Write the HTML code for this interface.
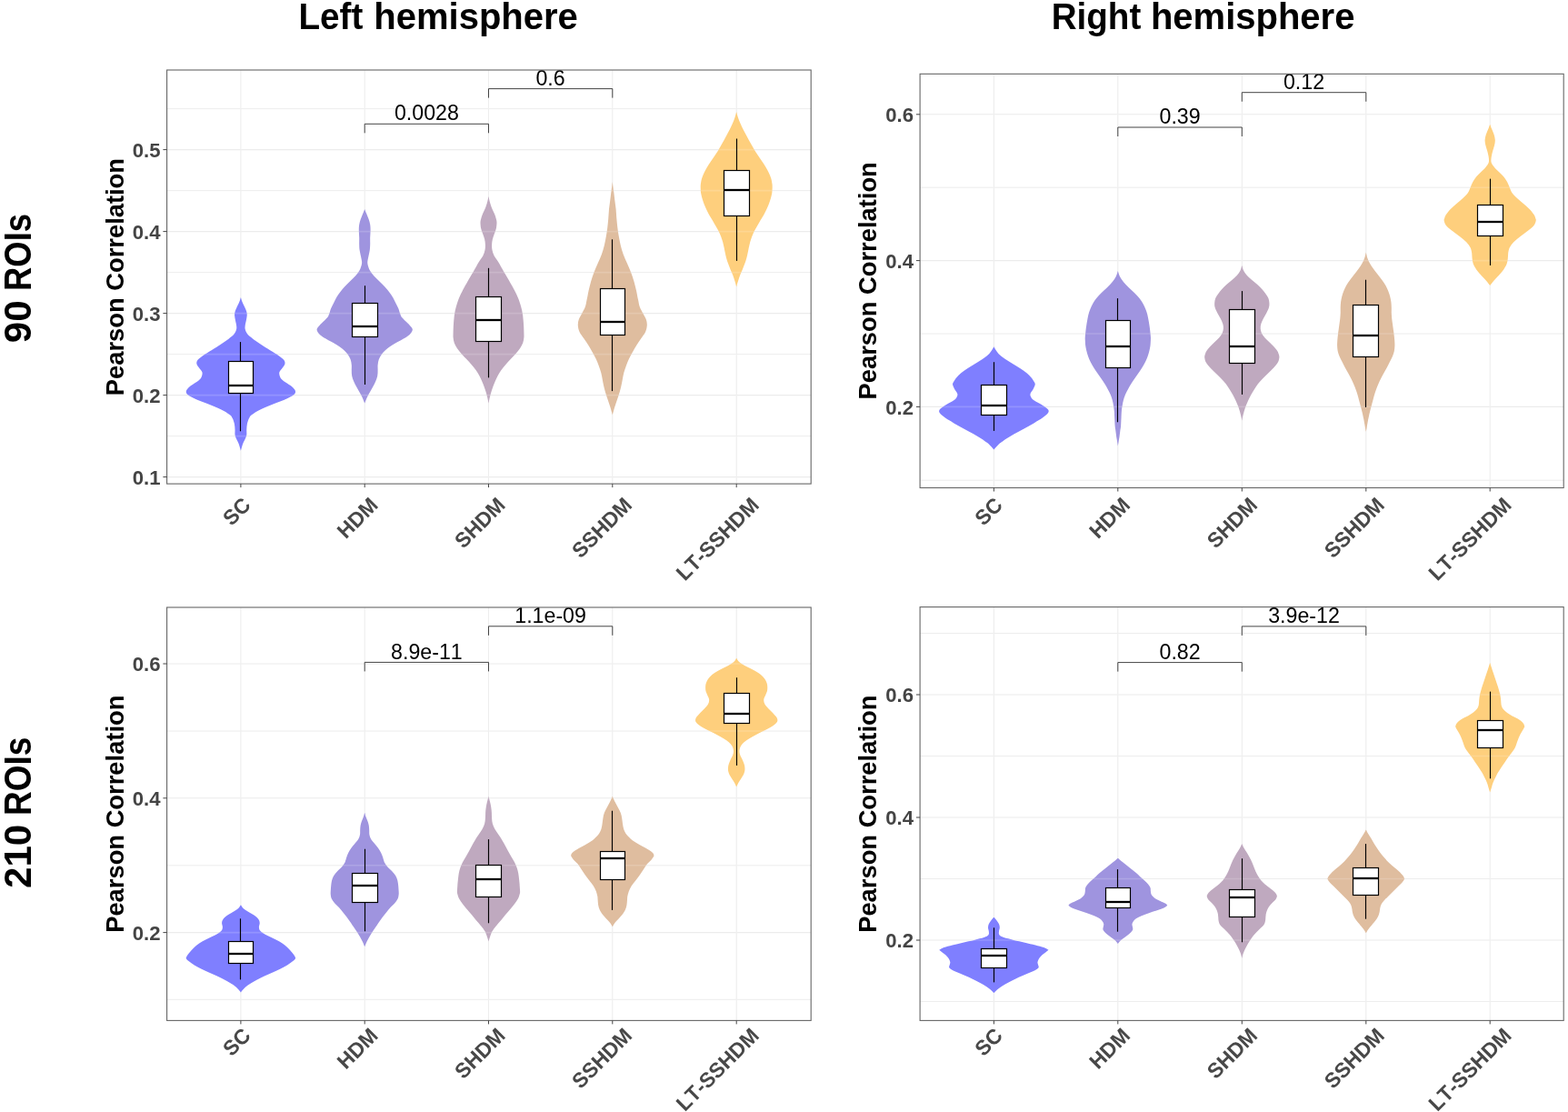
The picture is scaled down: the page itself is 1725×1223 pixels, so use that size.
<!DOCTYPE html>
<html lang="en">
<head>
<meta charset="utf-8">
<title>Pearson correlation violin plots</title>
<style>
html,body{margin:0;padding:0;background:#fff;}
body{width:1725px;height:1223px;overflow:hidden;}
svg{display:block;}
text{font-family:"Liberation Sans",sans-serif;}
.pv,.yt,.xt,.yl{font-kerning:none;}
.gmaj{stroke:#e9e9e9;stroke-width:1.1;}
.gv{stroke:#ededed;stroke-width:1.1;}
.gov{stroke:#fff;stroke-opacity:0.16;stroke-width:1.6;}
.gmin{stroke:#eaeaea;stroke-width:1;}
.fr{fill:none;stroke:#666;stroke-width:1.1;}
.tk{stroke:#444;stroke-width:1;}
.wh{stroke:#000;stroke-width:1.15;}
.bx{fill:#fff;stroke:#000;stroke-width:1.2;}
.md{stroke:#000;stroke-width:2.3;}
.br{fill:none;stroke:#3a3a3a;stroke-width:0.95;}
.pv{font-size:23.2px;text-anchor:middle;fill:#000;}
.yt{font-size:22.8px;font-weight:bold;text-anchor:end;fill:#444;}
.xt{font-size:23.2px;font-weight:bold;text-anchor:end;fill:#484848;}
.yl{font-size:28.4px;font-weight:bold;text-anchor:middle;fill:#000;}
.ti{font-size:40px;font-weight:bold;fill:#000;}
.tv{font-size:42px;font-weight:bold;fill:#000;}
</style>
</head>
<body>
<svg width="1725" height="1223" viewBox="0 0 1725 1223">
<rect width="1725" height="1223" fill="#fff"/>
<g id="p1">
<line x1="183.6" y1="119.6" x2="892.2" y2="119.6" class="gmin"/>
<line x1="183.6" y1="209.6" x2="892.2" y2="209.6" class="gmin"/>
<line x1="183.6" y1="299.6" x2="892.2" y2="299.6" class="gmin"/>
<line x1="183.6" y1="389.6" x2="892.2" y2="389.6" class="gmin"/>
<line x1="183.6" y1="479.6" x2="892.2" y2="479.6" class="gmin"/>
<line x1="183.6" y1="164.6" x2="892.2" y2="164.6" class="gmaj"/>
<line x1="183.6" y1="254.6" x2="892.2" y2="254.6" class="gmaj"/>
<line x1="183.6" y1="344.6" x2="892.2" y2="344.6" class="gmaj"/>
<line x1="183.6" y1="434.6" x2="892.2" y2="434.6" class="gmaj"/>
<line x1="183.6" y1="524.6" x2="892.2" y2="524.6" class="gmaj"/>
<line x1="264.9" y1="77" x2="264.9" y2="532.1" class="gv"/>
<line x1="401.2" y1="77" x2="401.2" y2="532.1" class="gv"/>
<line x1="537.5" y1="77" x2="537.5" y2="532.1" class="gv"/>
<line x1="673.8" y1="77" x2="673.8" y2="532.1" class="gv"/>
<line x1="810.2" y1="77" x2="810.2" y2="532.1" class="gv"/>
<path d="M264.9,327C265.2,327.9 265.8,330.2 266.5,332.1C267.2,333.9 268.5,336.2 269.3,338.1C270.1,339.9 270.9,341.6 271.3,343.1C271.7,344.6 271.8,345.6 271.7,347.1C271.6,348.6 271.2,350.3 270.9,352.1C270.6,353.9 269.9,356.4 269.7,358.1C269.5,359.8 269.4,360.8 269.7,362.1C270,363.4 270.4,364.8 271.3,366.1C272.2,367.5 273,368.5 274.9,370.1C276.9,371.8 280.1,374.1 282.9,376.1C285.8,378.1 288.8,380.1 291.9,382.1C295.1,384.2 299.3,386.5 302,388.2C304.6,389.8 306.2,390.8 308,392.2C309.7,393.5 311.7,394.8 312.6,396.2C313.5,397.5 313.7,398.8 313.4,400.2C313.1,401.5 312,402.7 311,404.2C310,405.7 307.9,407.5 307.4,409.2C306.9,410.9 307.4,412.7 308,414.2C308.6,415.7 309,416.5 311,418.2C313,419.9 317.8,422.6 320,424.2C322.2,425.9 323.2,427.1 324,428.2C324.8,429.4 325.2,430.2 325,431.2C324.8,432.2 324.5,433.1 323,434.2C321.5,435.4 319.7,436.6 316,438.2C312.3,439.9 305.8,442.3 301,444.3C296.1,446.3 290.9,448.3 286.9,450.3C282.9,452.3 279.1,454.6 276.9,456.3C274.8,458 274.8,458.6 273.9,460.3C273.1,462 272.3,464.3 271.9,466.3C271.5,468.3 271.4,470.3 271.3,472.3C271.2,474.3 271.5,476.7 271.3,478.3C271.1,480 270.6,480.6 269.9,482.3C269.2,484.1 267.7,486.5 266.9,488.7C266.1,491 265.2,494.6 264.9,495.8C264.6,494.6 263.7,491 262.9,488.7C262.1,486.5 260.6,484.1 259.9,482.3C259.2,480.6 258.7,480 258.5,478.3C258.3,476.7 258.6,474.3 258.5,472.3C258.4,470.3 258.3,468.3 257.9,466.3C257.5,464.3 256.7,462 255.9,460.3C255,458.6 255,458 252.9,456.3C250.7,454.6 246.9,452.3 242.9,450.3C238.9,448.3 233.7,446.3 228.8,444.3C224,442.3 217.5,439.9 213.8,438.2C210.1,436.6 208.3,435.4 206.8,434.2C205.3,433.1 205,432.2 204.8,431.2C204.6,430.2 205,429.4 205.8,428.2C206.6,427.1 207.6,425.9 209.8,424.2C212,422.6 216.8,419.9 218.8,418.2C220.8,416.5 221.2,415.7 221.8,414.2C222.4,412.7 222.9,410.9 222.4,409.2C221.9,407.5 219.8,405.7 218.8,404.2C217.8,402.7 216.7,401.5 216.4,400.2C216.1,398.8 216.3,397.5 217.2,396.2C218.1,394.8 220.1,393.5 221.8,392.2C223.6,390.8 225.2,389.8 227.8,388.2C230.5,386.5 234.7,384.2 237.9,382.1C241,380.1 244,378.1 246.9,376.1C249.7,374.1 252.9,371.8 254.9,370.1C256.8,368.5 257.6,367.5 258.5,366.1C259.4,364.8 259.8,363.4 260.1,362.1C260.4,360.8 260.3,359.8 260.1,358.1C259.9,356.4 259.2,353.9 258.9,352.1C258.6,350.3 258.2,348.6 258.1,347.1C258,345.6 258.1,344.6 258.5,343.1C258.9,341.6 259.7,339.9 260.5,338.1C261.3,336.2 262.6,333.9 263.3,332.1C264,330.2 264.6,327.9 264.9,327Z" fill="#7f7fff"/>
<path d="M401.2,230C401.5,230.9 402.5,233.2 403.2,235.1C403.9,236.9 404.9,239.1 405.6,241.1C406.3,243.1 406.9,245.1 407.2,247.1C407.5,249.1 407.6,250.7 407.6,253.1C407.6,255.4 407.3,258.4 407.2,261.1C407.1,263.8 407.3,266.8 407.2,269.1C407.1,271.5 407.1,273.1 406.8,275.1C406.5,277.1 406,279.1 405.6,281.1C405.2,283.1 404.6,285.5 404.4,287.1C404.2,288.8 404.2,289.5 404.6,291.2C405,292.8 405.7,295.2 406.8,297.2C407.9,299.2 409.5,301.2 411.2,303.2C413,305.2 415.2,307.2 417.2,309.2C419.2,311.2 421.4,313.2 423.2,315.2C425.1,317.2 426.7,319.2 428.2,321.2C429.8,323.2 431.1,325.2 432.3,327.2C433.4,329.2 434.3,331.2 435.3,333.2C436.3,335.2 437.4,337.2 438.3,339.2C439.1,341.2 439.6,343.6 440.3,345.3C440.9,346.9 440.9,347.6 442.3,349.3C443.6,350.9 446.5,353.4 448.3,355.3C450.1,357.1 452,358.9 452.9,360.3C453.8,361.6 454,362.1 453.7,363.3C453.4,364.5 452.5,366 451.3,367.3C450.1,368.6 449,369.6 446.3,371.3C443.6,373 438.6,375.3 435.3,377.3C431.9,379.3 428.7,381.3 426.2,383.3C423.7,385.3 421.8,387.3 420.2,389.3C418.7,391.3 417.6,393.3 416.8,395.3C416.1,397.3 415.8,399.3 415.6,401.4C415.4,403.4 415.7,405.4 415.6,407.4C415.6,409.4 415.6,411.4 415.2,413.4C414.8,415.4 414.1,417.4 413.2,419.4C412.4,421.4 411.3,423.4 410.2,425.4C409.1,427.4 407.9,429.4 406.8,431.4C405.7,433.4 404.5,435.4 403.6,437.4C402.7,439.4 401.6,442.4 401.2,443.4C400.8,442.4 399.7,439.4 398.8,437.4C397.9,435.4 396.7,433.4 395.6,431.4C394.5,429.4 393.3,427.4 392.2,425.4C391.1,423.4 390,421.4 389.2,419.4C388.3,417.4 387.6,415.4 387.2,413.4C386.8,411.4 386.8,409.4 386.8,407.4C386.7,405.4 387,403.4 386.8,401.4C386.6,399.3 386.3,397.3 385.6,395.3C384.8,393.3 383.7,391.3 382.2,389.3C380.6,387.3 378.7,385.3 376.2,383.3C373.7,381.3 370.5,379.3 367.1,377.3C363.8,375.3 358.8,373 356.1,371.3C353.4,369.6 352.3,368.6 351.1,367.3C349.9,366 349,364.5 348.7,363.3C348.4,362.1 348.6,361.6 349.5,360.3C350.4,358.9 352.3,357.1 354.1,355.3C355.9,353.4 358.8,350.9 360.1,349.3C361.5,347.6 361.5,346.9 362.1,345.3C362.8,343.6 363.3,341.2 364.1,339.2C365,337.2 366.1,335.2 367.1,333.2C368.1,331.2 369,329.2 370.1,327.2C371.3,325.2 372.6,323.2 374.2,321.2C375.7,319.2 377.3,317.2 379.2,315.2C381,313.2 383.2,311.2 385.2,309.2C387.2,307.2 389.4,305.2 391.2,303.2C392.9,301.2 394.5,299.2 395.6,297.2C396.7,295.2 397.4,292.8 397.8,291.2C398.2,289.5 398.2,288.8 398,287.1C397.8,285.5 397.2,283.1 396.8,281.1C396.4,279.1 395.9,277.1 395.6,275.1C395.3,273.1 395.3,271.5 395.2,269.1C395.1,266.8 395.3,263.8 395.2,261.1C395.1,258.4 394.8,255.4 394.8,253.1C394.8,250.7 394.9,249.1 395.2,247.1C395.5,245.1 396.1,243.1 396.8,241.1C397.5,239.1 398.5,236.9 399.2,235.1C399.9,233.2 400.9,230.9 401.2,230Z" fill="#9f94df"/>
<path d="M537.5,216C537.8,217.2 538.5,220.9 539.1,223C539.7,225.2 540.3,227 541.1,229C541.9,231 543.1,233.1 543.9,235.1C544.7,237.1 545.5,239.4 545.9,241.1C546.3,242.7 546.5,243.4 546.5,245.1C546.5,246.7 546.3,249.1 545.9,251.1C545.5,253.1 544.6,255.1 543.9,257.1C543.2,259.1 542.4,261.1 541.9,263.1C541.4,265.1 541.2,267.1 541.1,269.1C541,271.1 541.1,273.1 541.5,275.1C541.9,277.1 542.5,279.1 543.5,281.1C544.5,283.1 546.2,285.1 547.5,287.1C548.8,289.2 550,291.2 551.1,293.2C552.3,295.2 553.4,297.2 554.5,299.2C555.7,301.2 557,303.2 558.1,305.2C559.3,307.2 560.4,309.2 561.5,311.2C562.7,313.2 563.9,315.2 564.9,317.2C566,319.2 567,321.2 568,323.2C568.9,325.2 569.8,327.2 570.6,329.2C571.3,331.2 572,333.2 572.6,335.2C573.2,337.2 573.7,339.2 574.2,341.2C574.6,343.2 574.9,345.3 575.2,347.3C575.4,349.3 575.6,351.3 575.8,353.3C575.9,355.3 576.1,357.3 576.2,359.3C576.3,361.3 576.3,363.3 576.4,365.3C576.4,367.3 576.6,369.3 576.4,371.3C576.2,373.3 575.9,375.3 575.2,377.3C574.4,379.3 573.3,381.3 572,383.3C570.6,385.3 568.9,387.3 567.2,389.3C565.4,391.3 563.4,393.3 561.5,395.3C559.7,397.3 557.7,399.3 555.9,401.4C554.2,403.4 552.5,405.4 551.1,407.4C549.7,409.4 548.6,411.4 547.5,413.4C546.4,415.4 545.6,417.4 544.7,419.4C543.8,421.4 543,423.4 542.3,425.4C541.6,427.4 540.9,429.4 540.3,431.4C539.7,433.4 539.2,435.4 538.7,437.4C538.2,439.4 537.7,442.4 537.5,443.4C537.3,442.4 536.8,439.4 536.3,437.4C535.8,435.4 535.3,433.4 534.7,431.4C534.1,429.4 533.4,427.4 532.7,425.4C532,423.4 531.2,421.4 530.3,419.4C529.4,417.4 528.6,415.4 527.5,413.4C526.4,411.4 525.3,409.4 523.9,407.4C522.5,405.4 520.8,403.4 519.1,401.4C517.3,399.3 515.3,397.3 513.5,395.3C511.6,393.3 509.6,391.3 507.8,389.3C506.1,387.3 504.4,385.3 503,383.3C501.7,381.3 500.6,379.3 499.8,377.3C499.1,375.3 498.8,373.3 498.6,371.3C498.4,369.3 498.6,367.3 498.6,365.3C498.7,363.3 498.7,361.3 498.8,359.3C498.9,357.3 499.1,355.3 499.2,353.3C499.4,351.3 499.6,349.3 499.8,347.3C500.1,345.3 500.4,343.2 500.8,341.2C501.3,339.2 501.8,337.2 502.4,335.2C503,333.2 503.7,331.2 504.4,329.2C505.2,327.2 506.1,325.2 507,323.2C508,321.2 509,319.2 510.1,317.2C511.1,315.2 512.3,313.2 513.5,311.2C514.6,309.2 515.7,307.2 516.9,305.2C518,303.2 519.3,301.2 520.5,299.2C521.6,297.2 522.7,295.2 523.9,293.2C525,291.2 526.2,289.2 527.5,287.1C528.8,285.1 530.5,283.1 531.5,281.1C532.5,279.1 533.1,277.1 533.5,275.1C533.9,273.1 534,271.1 533.9,269.1C533.8,267.1 533.6,265.1 533.1,263.1C532.6,261.1 531.8,259.1 531.1,257.1C530.4,255.1 529.5,253.1 529.1,251.1C528.7,249.1 528.5,246.7 528.5,245.1C528.5,243.4 528.7,242.7 529.1,241.1C529.5,239.4 530.3,237.1 531.1,235.1C531.9,233.1 533.1,231 533.9,229C534.7,227 535.3,225.2 535.9,223C536.5,220.9 537.2,217.2 537.5,216Z" fill="#bfa9bf"/>
<path d="M673.8,200C674,201.7 674.6,206.7 675.1,210C675.5,213.4 675.9,216.7 676.3,220C676.7,223.4 677.2,226.7 677.6,230C677.9,233.4 678,236.7 678.3,240C678.6,243.4 678.9,246.7 679.3,250C679.7,253.4 680.2,256.7 680.8,260C681.4,263.4 682,266.7 682.8,270.1C683.6,273.4 684.6,276.7 685.8,280.1C687,283.4 688.6,286.7 690.1,290.1C691.5,293.4 693.1,296.7 694.3,300.1C695.6,303.4 696.6,306.7 697.6,310.1C698.5,313.4 699.3,316.7 700.1,320.1C700.8,323.4 701.4,327.2 702.1,330.1C702.7,333 702.9,335.1 703.8,337.6C704.7,340.1 706.4,342.8 707.6,345.1C708.7,347.4 710.1,349.3 710.8,351.3C711.5,353.4 711.9,355.3 711.8,357.6C711.7,359.9 711.2,362.6 710.1,365.1C708.9,367.6 706.7,370.1 705.1,372.6C703.4,375.1 701.6,377.6 700.1,380.1C698.5,382.6 697.2,385.1 695.8,387.6C694.4,390.1 693,392.6 691.8,395.1C690.6,397.6 689.7,400.1 688.8,402.6C687.9,405.1 687,407.6 686.3,410.1C685.6,412.6 685.3,415.1 684.8,417.6C684.3,420.1 683.9,422.6 683.3,425.1C682.7,427.6 682.1,430.1 681.3,432.6C680.6,435.1 679.6,437.6 678.8,440.1C678,442.6 677.1,444.9 676.3,447.6C675.5,450.4 674.2,454.9 673.8,456.4C673.4,454.9 672.1,450.4 671.3,447.6C670.5,444.9 669.6,442.6 668.8,440.1C668,437.6 667,435.1 666.3,432.6C665.5,430.1 664.9,427.6 664.3,425.1C663.7,422.6 663.3,420.1 662.8,417.6C662.3,415.1 662,412.6 661.3,410.1C660.6,407.6 659.7,405.1 658.8,402.6C657.9,400.1 657,397.6 655.8,395.1C654.6,392.6 653.2,390.1 651.8,387.6C650.4,385.1 649.1,382.6 647.5,380.1C646,377.6 644.2,375.1 642.5,372.6C640.9,370.1 638.7,367.6 637.5,365.1C636.4,362.6 635.9,359.9 635.8,357.6C635.7,355.3 636.1,353.4 636.8,351.3C637.5,349.3 638.9,347.4 640,345.1C641.2,342.8 642.9,340.1 643.8,337.6C644.7,335.1 644.9,333 645.5,330.1C646.2,327.2 646.8,323.4 647.5,320.1C648.3,316.7 649.1,313.4 650,310.1C651,306.7 652,303.4 653.3,300.1C654.5,296.7 656.1,293.4 657.5,290.1C659,286.7 660.6,283.4 661.8,280.1C663,276.7 664,273.4 664.8,270.1C665.6,266.7 666.2,263.4 666.8,260C667.4,256.7 667.9,253.4 668.3,250C668.7,246.7 669,243.4 669.3,240C669.6,236.7 669.7,233.4 670,230C670.4,226.7 670.9,223.4 671.3,220C671.7,216.7 672.1,213.4 672.5,210C673,206.7 673.6,201.7 673.8,200Z" fill="#dfbd9f"/>
<path d="M810.2,123C810.5,124.2 811.5,127.9 812.2,130.1C812.9,132.2 813.7,134.1 814.6,136.1C815.5,138.1 816.4,140.1 817.4,142.1C818.4,144.1 819.6,146.1 820.6,148.1C821.7,150.1 822.7,152.1 823.8,154.1C824.9,156.1 826.1,158.1 827.2,160.1C828.4,162.1 829.4,164.1 830.6,166.1C831.9,168.1 833.3,170.1 834.6,172.1C836,174.1 837.3,176.1 838.7,178.1C840,180.1 841.5,182.1 842.7,184.2C843.9,186.2 844.9,188.2 845.9,190.2C846.8,192.2 847.7,194.2 848.3,196.2C848.9,198.2 849.2,200.5 849.5,202.2C849.7,203.9 849.7,204.5 849.7,206.2C849.6,207.9 849.6,210.2 849.3,212.2C849,214.2 848.4,216.2 847.9,218.2C847.3,220.2 846.6,222.2 845.9,224.2C845.1,226.2 844.2,228.2 843.3,230.2C842.3,232.2 841.4,234.2 840.3,236.2C839.2,238.2 837.8,240.3 836.6,242.3C835.5,244.3 834.4,246.3 833.2,248.3C832.1,250.3 830.8,252.3 829.8,254.3C828.8,256.3 828,258.3 827.2,260.3C826.5,262.3 825.8,264.3 825.2,266.3C824.7,268.3 824.3,270.3 823.8,272.3C823.4,274.3 823.1,276.3 822.6,278.3C822.2,280.3 821.8,282.3 821.2,284.3C820.7,286.3 820,288.3 819.2,290.3C818.5,292.3 817.6,294.3 816.8,296.4C816,298.4 815,300.4 814.2,302.4C813.4,304.4 812.9,306.2 812.2,308.4C811.5,310.5 810.5,314.2 810.2,315.4C809.9,314.2 808.9,310.5 808.2,308.4C807.5,306.2 807,304.4 806.2,302.4C805.4,300.4 804.4,298.4 803.6,296.4C802.8,294.3 801.9,292.3 801.2,290.3C800.4,288.3 799.7,286.3 799.2,284.3C798.6,282.3 798.2,280.3 797.8,278.3C797.3,276.3 797,274.3 796.6,272.3C796.1,270.3 795.7,268.3 795.2,266.3C794.6,264.3 793.9,262.3 793.2,260.3C792.4,258.3 791.6,256.3 790.6,254.3C789.6,252.3 788.3,250.3 787.2,248.3C786,246.3 784.9,244.3 783.8,242.3C782.6,240.3 781.2,238.2 780.1,236.2C779,234.2 778.1,232.2 777.1,230.2C776.2,228.2 775.3,226.2 774.5,224.2C773.8,222.2 773.1,220.2 772.5,218.2C772,216.2 771.4,214.2 771.1,212.2C770.8,210.2 770.8,207.9 770.7,206.2C770.7,204.5 770.7,203.9 770.9,202.2C771.2,200.5 771.5,198.2 772.1,196.2C772.7,194.2 773.6,192.2 774.5,190.2C775.5,188.2 776.5,186.2 777.7,184.2C778.9,182.1 780.4,180.1 781.7,178.1C783.1,176.1 784.4,174.1 785.8,172.1C787.1,170.1 788.5,168.1 789.8,166.1C791,164.1 792,162.1 793.2,160.1C794.3,158.1 795.5,156.1 796.6,154.1C797.7,152.1 798.7,150.1 799.8,148.1C800.8,146.1 802,144.1 803,142.1C804,140.1 804.9,138.1 805.8,136.1C806.7,134.1 807.5,132.2 808.2,130.1C808.9,127.9 809.9,124.2 810.2,123Z" fill="#fecf7d"/>
<line x1="183.6" y1="164.6" x2="892.2" y2="164.6" class="gov"/>
<line x1="183.6" y1="254.6" x2="892.2" y2="254.6" class="gov"/>
<line x1="183.6" y1="344.6" x2="892.2" y2="344.6" class="gov"/>
<line x1="183.6" y1="434.6" x2="892.2" y2="434.6" class="gov"/>
<line x1="183.6" y1="524.6" x2="892.2" y2="524.6" class="gov"/>
<line x1="183.6" y1="119.6" x2="892.2" y2="119.6" class="gov"/>
<line x1="183.6" y1="209.6" x2="892.2" y2="209.6" class="gov"/>
<line x1="183.6" y1="299.6" x2="892.2" y2="299.6" class="gov"/>
<line x1="183.6" y1="389.6" x2="892.2" y2="389.6" class="gov"/>
<line x1="183.6" y1="479.6" x2="892.2" y2="479.6" class="gov"/>
<line x1="264.5" y1="376.1" x2="264.5" y2="474.3" class="wh"/>
<rect x="251.5" y="397.5" width="27" height="35" class="bx"/>
<line x1="251.5" y1="424" x2="278.5" y2="424" class="md"/>
<line x1="401.5" y1="314.2" x2="401.5" y2="423" class="wh"/>
<rect x="387.5" y="333.5" width="28" height="37" class="bx"/>
<line x1="387.5" y1="359" x2="415.5" y2="359" class="md"/>
<line x1="537.5" y1="294.8" x2="537.5" y2="415.4" class="wh"/>
<rect x="523.5" y="326.5" width="28" height="49" class="bx"/>
<line x1="523.5" y1="352" x2="551.5" y2="352" class="md"/>
<line x1="673.5" y1="263.3" x2="673.5" y2="430.1" class="wh"/>
<rect x="660.5" y="317.5" width="27" height="51" class="bx"/>
<line x1="660.5" y1="354" x2="687.5" y2="354" class="md"/>
<line x1="810.5" y1="152.5" x2="810.5" y2="286.9" class="wh"/>
<rect x="796.5" y="187.5" width="28" height="50" class="bx"/>
<line x1="796.5" y1="209" x2="824.5" y2="209" class="md"/>
<path d="M401.2,146.3V136.3H537.5V146.3" class="br"/>
<text x="469.4" y="132.4" class="pv">0.0028</text>
<path d="M537.5,107.6V97.6H673.8V107.6" class="br"/>
<text x="605.6" y="93.7" class="pv">0.6</text>
<rect x="183.6" y="77" width="708.6" height="455.1" class="fr"/>
<line x1="179.4" y1="164.6" x2="183.6" y2="164.6" class="tk"/>
<text transform="translate(176.6,173) scale(0.972,1)" class="yt">0.5</text>
<line x1="179.4" y1="254.6" x2="183.6" y2="254.6" class="tk"/>
<text transform="translate(176.6,263) scale(0.972,1)" class="yt">0.4</text>
<line x1="179.4" y1="344.6" x2="183.6" y2="344.6" class="tk"/>
<text transform="translate(176.6,353) scale(0.972,1)" class="yt">0.3</text>
<line x1="179.4" y1="434.6" x2="183.6" y2="434.6" class="tk"/>
<text transform="translate(176.6,443) scale(0.972,1)" class="yt">0.2</text>
<line x1="179.4" y1="524.6" x2="183.6" y2="524.6" class="tk"/>
<text transform="translate(176.6,533) scale(0.972,1)" class="yt">0.1</text>
<line x1="264.9" y1="532.1" x2="264.9" y2="536.1" class="tk"/>
<text transform="translate(277.1,557) rotate(-45) scale(0.978,1)" class="xt">SC</text>
<line x1="401.2" y1="532.1" x2="401.2" y2="536.1" class="tk"/>
<text transform="translate(417.1,557) rotate(-45) scale(0.978,1)" class="xt">HDM</text>
<line x1="537.5" y1="532.1" x2="537.5" y2="536.1" class="tk"/>
<text transform="translate(557.1,557) rotate(-45) scale(0.978,1)" class="xt">SHDM</text>
<line x1="673.8" y1="532.1" x2="673.8" y2="536.1" class="tk"/>
<text transform="translate(696.7,557) rotate(-45) scale(0.978,1)" class="xt">SSHDM</text>
<line x1="810.2" y1="532.1" x2="810.2" y2="536.1" class="tk"/>
<text transform="translate(836.3,557) rotate(-45) scale(0.978,1)" class="xt">LT-SSHDM</text>
<text transform="translate(136.1,304.6) rotate(-90) scale(0.963,1)" class="yl">Pearson Correlation</text>
</g>
<g id="p2">
<line x1="1012.1" y1="206.2" x2="1720.2" y2="206.2" class="gmin"/>
<line x1="1012.1" y1="367" x2="1720.2" y2="367" class="gmin"/>
<line x1="1012.1" y1="528.2" x2="1720.2" y2="528.2" class="gmin"/>
<line x1="1012.1" y1="125.8" x2="1720.2" y2="125.8" class="gmaj"/>
<line x1="1012.1" y1="286.6" x2="1720.2" y2="286.6" class="gmaj"/>
<line x1="1012.1" y1="447.4" x2="1720.2" y2="447.4" class="gmaj"/>
<line x1="1093.4" y1="81.3" x2="1093.4" y2="536.5" class="gv"/>
<line x1="1229.8" y1="81.3" x2="1229.8" y2="536.5" class="gv"/>
<line x1="1366.3" y1="81.3" x2="1366.3" y2="536.5" class="gv"/>
<line x1="1502.8" y1="81.3" x2="1502.8" y2="536.5" class="gv"/>
<line x1="1639.2" y1="81.3" x2="1639.2" y2="536.5" class="gv"/>
<path d="M1093.4,381.2C1093.9,382 1095.3,384.7 1096.4,386.2C1097.5,387.7 1098.1,388.7 1099.8,390.2C1101.5,391.7 1104,393.5 1106.4,395.2C1108.9,396.9 1111.8,398.5 1114.4,400.2C1117.1,401.9 1119.9,403.6 1122.5,405.2C1125,406.9 1127.5,408.6 1129.5,410.2C1131.5,411.9 1133.1,413.6 1134.5,415.2C1135.9,416.9 1137.2,418.9 1137.9,420.3C1138.6,421.6 1138.9,421.9 1138.7,423.3C1138.4,424.6 1137.3,426.6 1136.5,428.3C1135.6,429.9 1133.8,431.8 1133.5,433.3C1133.1,434.8 1133.8,436.1 1134.5,437.3C1135.1,438.5 1135.8,439.1 1137.5,440.3C1139.1,441.5 1142.3,443 1144.5,444.3C1146.7,445.6 1149,447.1 1150.5,448.3C1152,449.5 1153.1,450.3 1153.5,451.3C1153.9,452.3 1153.7,453.1 1152.9,454.3C1152.1,455.5 1150.2,457 1148.5,458.3C1146.8,459.7 1145.2,460.7 1142.5,462.3C1139.8,464 1136,466.3 1132.5,468.3C1129,470.3 1125.1,472.3 1121.5,474.3C1117.8,476.4 1113.8,478.4 1110.4,480.4C1107.1,482.4 1103.7,484.7 1101.4,486.4C1099.2,488 1098.3,489 1097,490.4C1095.7,491.7 1094,493.7 1093.4,494.4C1092.8,493.7 1091.1,491.7 1089.8,490.4C1088.5,489 1087.6,488 1085.4,486.4C1083.1,484.7 1079.7,482.4 1076.4,480.4C1073,478.4 1069,476.4 1065.3,474.3C1061.7,472.3 1057.8,470.3 1054.3,468.3C1050.8,466.3 1047,464 1044.3,462.3C1041.6,460.7 1040,459.7 1038.3,458.3C1036.6,457 1034.7,455.5 1033.9,454.3C1033.1,453.1 1032.9,452.3 1033.3,451.3C1033.7,450.3 1034.8,449.5 1036.3,448.3C1037.8,447.1 1040.1,445.6 1042.3,444.3C1044.5,443 1047.7,441.5 1049.3,440.3C1051,439.1 1051.7,438.5 1052.3,437.3C1053,436.1 1053.7,434.8 1053.3,433.3C1053,431.8 1051.2,429.9 1050.3,428.3C1049.5,426.6 1048.4,424.6 1048.1,423.3C1047.9,421.9 1048.2,421.6 1048.9,420.3C1049.6,418.9 1050.9,416.9 1052.3,415.2C1053.7,413.6 1055.3,411.9 1057.3,410.2C1059.3,408.6 1061.8,406.9 1064.3,405.2C1066.9,403.6 1069.7,401.9 1072.4,400.2C1075,398.5 1077.9,396.9 1080.4,395.2C1082.8,393.5 1085.3,391.7 1087,390.2C1088.7,388.7 1089.3,387.7 1090.4,386.2C1091.5,384.7 1092.9,382 1093.4,381.2Z" fill="#7f7fff"/>
<path d="M1229.8,298C1230.2,299 1230.9,302 1231.9,304C1232.9,306 1234.3,308.1 1235.9,310.1C1237.5,312.1 1239.5,314.1 1241.5,316.1C1243.5,318.1 1245.9,320.1 1247.9,322.1C1249.9,324.1 1251.9,326.1 1253.5,328.1C1255.1,330.1 1256.4,332.1 1257.5,334.1C1258.6,336.1 1259.5,338.1 1260.3,340.1C1261.1,342.1 1261.8,344.1 1262.3,346.1C1262.8,348.1 1263.1,350.1 1263.5,352.1C1263.9,354.1 1264.2,356.1 1264.5,358.1C1264.8,360.1 1265.1,362.1 1265.3,364.2C1265.5,366.2 1265.8,368.5 1265.9,370.2C1266,371.8 1266,372.5 1265.9,374.2C1265.8,375.8 1265.8,378.2 1265.5,380.2C1265.2,382.2 1264.8,384.2 1264.3,386.2C1263.8,388.2 1263.2,390.2 1262.5,392.2C1261.8,394.2 1260.9,396.2 1259.9,398.2C1258.9,400.2 1257.7,402.2 1256.5,404.2C1255.3,406.2 1253.9,408.2 1252.5,410.2C1251.1,412.2 1249.7,414.2 1248.3,416.2C1246.9,418.2 1245.5,420.3 1244.3,422.3C1243,424.3 1241.9,426.3 1240.9,428.3C1239.8,430.3 1238.7,432.3 1237.9,434.3C1237,436.3 1236.4,438.3 1235.9,440.3C1235.3,442.3 1235,444.3 1234.7,446.3C1234.3,448.3 1234.1,450 1233.9,452.3C1233.7,454.6 1233.6,457.7 1233.5,460.3C1233.3,463 1233.3,466 1233.1,468.3C1232.9,470.7 1232.5,472.3 1232.3,474.3C1232,476.4 1231.8,478.4 1231.5,480.4C1231.2,482.4 1230.7,484.7 1230.5,486.4C1230.2,488 1230,489.7 1229.8,490.4C1229.7,489.7 1229.5,488 1229.2,486.4C1229,484.7 1228.5,482.4 1228.2,480.4C1227.9,478.4 1227.7,476.4 1227.4,474.3C1227.2,472.3 1226.8,470.7 1226.6,468.3C1226.4,466 1226.4,463 1226.2,460.3C1226.1,457.7 1226,454.6 1225.8,452.3C1225.6,450 1225.4,448.3 1225,446.3C1224.7,444.3 1224.4,442.3 1223.8,440.3C1223.3,438.3 1222.7,436.3 1221.8,434.3C1221,432.3 1219.9,430.3 1218.8,428.3C1217.8,426.3 1216.7,424.3 1215.4,422.3C1214.2,420.3 1212.8,418.2 1211.4,416.2C1210,414.2 1208.6,412.2 1207.2,410.2C1205.8,408.2 1204.4,406.2 1203.2,404.2C1202,402.2 1200.8,400.2 1199.8,398.2C1198.8,396.2 1197.9,394.2 1197.2,392.2C1196.5,390.2 1195.9,388.2 1195.4,386.2C1194.9,384.2 1194.5,382.2 1194.2,380.2C1193.9,378.2 1193.9,375.8 1193.8,374.2C1193.7,372.5 1193.7,371.8 1193.8,370.2C1193.9,368.5 1194.2,366.2 1194.4,364.2C1194.6,362.1 1194.9,360.1 1195.2,358.1C1195.5,356.1 1195.8,354.1 1196.2,352.1C1196.6,350.1 1196.9,348.1 1197.4,346.1C1197.9,344.1 1198.6,342.1 1199.4,340.1C1200.2,338.1 1201.1,336.1 1202.2,334.1C1203.3,332.1 1204.6,330.1 1206.2,328.1C1207.8,326.1 1209.8,324.1 1211.8,322.1C1213.8,320.1 1216.2,318.1 1218.2,316.1C1220.2,314.1 1222.2,312.1 1223.8,310.1C1225.4,308.1 1226.8,306 1227.8,304C1228.8,302 1229.5,299 1229.8,298Z" fill="#9f94df"/>
<path d="M1366.3,292.1C1366.6,293.1 1367.4,296.2 1368.3,298.1C1369.2,299.9 1370.4,301.4 1371.9,303.1C1373.4,304.7 1375.4,306.4 1377.3,308.1C1379.2,309.8 1381.5,311.4 1383.3,313.1C1385.2,314.8 1386.8,316.4 1388.3,318.1C1389.8,319.8 1391.2,321.4 1392.3,323.1C1393.5,324.8 1394.7,326.5 1395.4,328.1C1396,329.8 1396.3,331.5 1396.4,333.1C1396.5,334.8 1396.5,336.3 1396,338.1C1395.5,340 1394.4,342.1 1393.3,344.2C1392.3,346.2 1390.9,348.2 1389.9,350.2C1388.9,352.2 1387.9,354.3 1387.3,356.2C1386.8,358 1386.6,359.5 1386.7,361.2C1386.8,362.9 1387.2,364.5 1387.9,366.2C1388.7,367.9 1389.9,369.5 1391.3,371.2C1392.7,372.9 1394.7,374.5 1396.4,376.2C1398,377.9 1399.9,379.5 1401.4,381.2C1402.9,382.9 1404.4,384.7 1405.4,386.2C1406.3,387.7 1406.6,389.1 1407,390.2C1407.3,391.4 1407.5,391.9 1407.4,393.2C1407.2,394.6 1407,396.4 1406,398.2C1405,400.1 1403.1,402.3 1401.4,404.3C1399.6,406.3 1397.4,408.3 1395.4,410.3C1393.3,412.3 1391.2,414.3 1389.3,416.3C1387.4,418.3 1385.5,420.3 1383.9,422.3C1382.4,424.3 1381.2,426.3 1379.9,428.3C1378.7,430.3 1377.4,432.3 1376.3,434.3C1375.2,436.3 1374.2,438.3 1373.3,440.3C1372.4,442.3 1371.5,444.3 1370.7,446.3C1369.9,448.3 1369.3,450.3 1368.7,452.3C1368.1,454.3 1367.5,456.6 1367.1,458.4C1366.7,460.1 1366.4,462 1366.3,462.8C1366.2,462 1365.9,460.1 1365.5,458.4C1365.1,456.6 1364.5,454.3 1363.9,452.3C1363.3,450.3 1362.7,448.3 1361.9,446.3C1361.1,444.3 1360.2,442.3 1359.3,440.3C1358.4,438.3 1357.4,436.3 1356.3,434.3C1355.2,432.3 1353.9,430.3 1352.7,428.3C1351.4,426.3 1350.2,424.3 1348.7,422.3C1347.1,420.3 1345.2,418.3 1343.3,416.3C1341.4,414.3 1339.3,412.3 1337.2,410.3C1335.2,408.3 1333,406.3 1331.2,404.3C1329.5,402.3 1327.6,400.1 1326.6,398.2C1325.6,396.4 1325.4,394.6 1325.2,393.2C1325.1,391.9 1325.3,391.4 1325.6,390.2C1326,389.1 1326.3,387.7 1327.2,386.2C1328.2,384.7 1329.7,382.9 1331.2,381.2C1332.7,379.5 1334.6,377.9 1336.2,376.2C1337.9,374.5 1339.9,372.9 1341.3,371.2C1342.7,369.5 1343.9,367.9 1344.7,366.2C1345.4,364.5 1345.8,362.9 1345.9,361.2C1346,359.5 1345.8,358 1345.3,356.2C1344.7,354.3 1343.7,352.2 1342.7,350.2C1341.7,348.2 1340.3,346.2 1339.3,344.2C1338.2,342.1 1337.1,340 1336.6,338.1C1336.1,336.3 1336.1,334.8 1336.2,333.1C1336.3,331.5 1336.6,329.8 1337.2,328.1C1337.9,326.5 1339.1,324.8 1340.3,323.1C1341.4,321.4 1342.8,319.8 1344.3,318.1C1345.8,316.4 1347.4,314.8 1349.3,313.1C1351.1,311.4 1353.4,309.8 1355.3,308.1C1357.2,306.4 1359.2,304.7 1360.7,303.1C1362.2,301.4 1363.4,299.9 1364.3,298.1C1365.2,296.2 1366,293.1 1366.3,292.1Z" fill="#bfa9bf"/>
<path d="M1502.8,277.6C1503,278.7 1503.6,282 1504.4,284C1505.1,286.1 1506,288.1 1507.2,290.1C1508.3,292.1 1509.7,294.1 1511.2,296.1C1512.6,298.1 1514.2,300.1 1515.8,302.1C1517.3,304.1 1518.9,306.1 1520.4,308.1C1521.8,310.1 1523.3,312.1 1524.4,314.1C1525.5,316.1 1526.4,318.1 1527.2,320.1C1528,322.1 1528.7,324.1 1529.2,326.1C1529.7,328.1 1530.1,330.1 1530.4,332.1C1530.7,334.1 1530.7,336.1 1530.8,338.1C1530.9,340.1 1530.7,342.1 1530.8,344.2C1530.9,346.2 1531,348.2 1531.2,350.2C1531.4,352.2 1531.7,354.2 1532,356.2C1532.3,358.2 1532.5,360.2 1532.8,362.2C1533.1,364.2 1533.4,366.2 1533.6,368.2C1533.8,370.2 1534.1,372.2 1534.2,374.2C1534.3,376.2 1534.5,378.2 1534.4,380.2C1534.3,382.2 1534.2,384.2 1533.8,386.2C1533.4,388.2 1532.6,390.2 1531.8,392.2C1531,394.2 1529.8,396.2 1528.8,398.2C1527.8,400.3 1526.9,402.3 1525.8,404.3C1524.7,406.3 1523.5,408.3 1522.4,410.3C1521.3,412.3 1520.2,414.3 1519.2,416.3C1518.2,418.3 1517.2,420.3 1516.4,422.3C1515.5,424.3 1514.7,426.3 1514,428.3C1513.2,430.3 1512.6,432.3 1512,434.3C1511.4,436.3 1510.9,438.3 1510.4,440.3C1509.8,442.3 1509.3,444.3 1508.8,446.3C1508.2,448.3 1507.7,450.3 1507.2,452.3C1506.7,454.3 1506.2,456.4 1505.8,458.4C1505.3,460.4 1504.9,462.4 1504.6,464.4C1504.2,466.4 1503.9,468.6 1503.6,470.4C1503.3,472.1 1502.9,474.1 1502.8,474.8C1502.6,474.1 1502.2,472.1 1501.9,470.4C1501.6,468.6 1501.3,466.4 1500.9,464.4C1500.6,462.4 1500.2,460.4 1499.7,458.4C1499.3,456.4 1498.8,454.3 1498.3,452.3C1497.8,450.3 1497.3,448.3 1496.7,446.3C1496.2,444.3 1495.7,442.3 1495.1,440.3C1494.6,438.3 1494.1,436.3 1493.5,434.3C1492.9,432.3 1492.3,430.3 1491.5,428.3C1490.8,426.3 1490,424.3 1489.1,422.3C1488.3,420.3 1487.3,418.3 1486.3,416.3C1485.3,414.3 1484.2,412.3 1483.1,410.3C1482,408.3 1480.8,406.3 1479.7,404.3C1478.6,402.3 1477.7,400.3 1476.7,398.2C1475.7,396.2 1474.5,394.2 1473.7,392.2C1472.9,390.2 1472.1,388.2 1471.7,386.2C1471.3,384.2 1471.2,382.2 1471.1,380.2C1471,378.2 1471.2,376.2 1471.3,374.2C1471.4,372.2 1471.7,370.2 1471.9,368.2C1472.1,366.2 1472.4,364.2 1472.7,362.2C1473,360.2 1473.2,358.2 1473.5,356.2C1473.8,354.2 1474.1,352.2 1474.3,350.2C1474.5,348.2 1474.6,346.2 1474.7,344.2C1474.8,342.1 1474.6,340.1 1474.7,338.1C1474.8,336.1 1474.8,334.1 1475.1,332.1C1475.4,330.1 1475.8,328.1 1476.3,326.1C1476.8,324.1 1477.5,322.1 1478.3,320.1C1479.1,318.1 1480,316.1 1481.1,314.1C1482.2,312.1 1483.7,310.1 1485.1,308.1C1486.6,306.1 1488.2,304.1 1489.7,302.1C1491.3,300.1 1492.9,298.1 1494.3,296.1C1495.8,294.1 1497.2,292.1 1498.3,290.1C1499.5,288.1 1500.4,286.1 1501.1,284C1501.9,282 1502.5,278.7 1502.8,277.6Z" fill="#dfbd9f"/>
<path d="M1639.2,136.7C1639.5,137.6 1640.5,140.2 1641.2,142.1C1641.9,144 1643,146.1 1643.6,148.1C1644.2,150.1 1644.7,152.1 1644.8,154.1C1644.9,156.1 1644.4,158.1 1644,160.1C1643.6,162.1 1642.7,164.1 1642.2,166.1C1641.7,168.1 1641.1,170.3 1640.8,172.1C1640.5,174 1640.3,175.8 1640.4,177.1C1640.5,178.5 1640.6,179 1641.2,180.1C1641.8,181.3 1642.9,182.6 1644.2,184.2C1645.5,185.7 1647.5,187.5 1649.2,189.2C1650.9,190.8 1652.7,192.3 1654.2,194.2C1655.7,196 1657.1,198.2 1658.2,200.2C1659.3,202.2 1659.9,204.2 1660.8,206.2C1661.7,208.2 1662.2,210.2 1663.6,212.2C1665,214.2 1667.2,216.2 1669.3,218.2C1671.4,220.2 1674,222.2 1676.3,224.2C1678.5,226.2 1681,228.2 1682.9,230.2C1684.8,232.2 1686.6,234.6 1687.7,236.2C1688.8,237.9 1689,239.2 1689.3,240.3C1689.6,241.3 1690,241.3 1689.7,242.7C1689.4,244 1688.9,246.3 1687.3,248.3C1685.7,250.2 1682.8,252.3 1680.3,254.3C1677.8,256.3 1674.8,258.3 1672.3,260.3C1669.8,262.3 1667.2,264.3 1665.2,266.3C1663.3,268.3 1661.8,270.3 1660.8,272.3C1659.8,274.3 1659.6,276.3 1659.2,278.3C1658.9,280.3 1659.1,282.3 1658.8,284.3C1658.6,286.3 1658.4,288.3 1657.6,290.3C1656.9,292.3 1655.6,294.3 1654.2,296.4C1652.8,298.4 1651,300.4 1649.2,302.4C1647.4,304.4 1645.3,306.4 1643.6,308.4C1641.9,310.3 1639.9,313.1 1639.2,314C1638.5,313.1 1636.5,310.3 1634.8,308.4C1633.1,306.4 1631,304.4 1629.2,302.4C1627.4,300.4 1625.6,298.4 1624.2,296.4C1622.8,294.3 1621.5,292.3 1620.8,290.3C1620,288.3 1619.8,286.3 1619.6,284.3C1619.3,282.3 1619.5,280.3 1619.2,278.3C1618.8,276.3 1618.6,274.3 1617.6,272.3C1616.6,270.3 1615.1,268.3 1613.2,266.3C1611.2,264.3 1608.6,262.3 1606.1,260.3C1603.6,258.3 1600.6,256.3 1598.1,254.3C1595.6,252.3 1592.7,250.2 1591.1,248.3C1589.5,246.3 1589,244 1588.7,242.7C1588.4,241.3 1588.8,241.3 1589.1,240.3C1589.4,239.2 1589.6,237.9 1590.7,236.2C1591.8,234.6 1593.6,232.2 1595.5,230.2C1597.4,228.2 1599.9,226.2 1602.1,224.2C1604.4,222.2 1607,220.2 1609.1,218.2C1611.2,216.2 1613.4,214.2 1614.8,212.2C1616.2,210.2 1616.7,208.2 1617.6,206.2C1618.5,204.2 1619.1,202.2 1620.2,200.2C1621.3,198.2 1622.7,196 1624.2,194.2C1625.7,192.3 1627.5,190.8 1629.2,189.2C1630.9,187.5 1632.9,185.7 1634.2,184.2C1635.5,182.6 1636.6,181.3 1637.2,180.1C1637.8,179 1637.9,178.5 1638,177.1C1638.1,175.8 1637.9,174 1637.6,172.1C1637.3,170.3 1636.7,168.1 1636.2,166.1C1635.7,164.1 1634.8,162.1 1634.4,160.1C1634,158.1 1633.5,156.1 1633.6,154.1C1633.7,152.1 1634.2,150.1 1634.8,148.1C1635.4,146.1 1636.5,144 1637.2,142.1C1637.9,140.2 1638.9,137.6 1639.2,136.7Z" fill="#fecf7d"/>
<line x1="1012.1" y1="125.8" x2="1720.2" y2="125.8" class="gov"/>
<line x1="1012.1" y1="286.6" x2="1720.2" y2="286.6" class="gov"/>
<line x1="1012.1" y1="447.4" x2="1720.2" y2="447.4" class="gov"/>
<line x1="1012.1" y1="206.2" x2="1720.2" y2="206.2" class="gov"/>
<line x1="1012.1" y1="367" x2="1720.2" y2="367" class="gov"/>
<line x1="1012.1" y1="528.2" x2="1720.2" y2="528.2" class="gov"/>
<line x1="1093.5" y1="398.2" x2="1093.5" y2="473.9" class="wh"/>
<rect x="1079.5" y="423.5" width="28" height="33" class="bx"/>
<line x1="1079.5" y1="446" x2="1107.5" y2="446" class="md"/>
<line x1="1229.5" y1="328.1" x2="1229.5" y2="464.3" class="wh"/>
<rect x="1216.5" y="352.5" width="27" height="52" class="bx"/>
<line x1="1216.5" y1="381" x2="1243.5" y2="381" class="md"/>
<line x1="1366.5" y1="320.1" x2="1366.5" y2="433.9" class="wh"/>
<rect x="1352.5" y="340.5" width="28" height="59" class="bx"/>
<line x1="1352.5" y1="381" x2="1380.5" y2="381" class="md"/>
<line x1="1502.5" y1="307.7" x2="1502.5" y2="447.9" class="wh"/>
<rect x="1488.5" y="335.5" width="28" height="57" class="bx"/>
<line x1="1488.5" y1="369" x2="1516.5" y2="369" class="md"/>
<line x1="1639.5" y1="196.6" x2="1639.5" y2="291.9" class="wh"/>
<rect x="1625.5" y="225.5" width="28" height="34" class="bx"/>
<line x1="1625.5" y1="244" x2="1653.5" y2="244" class="md"/>
<path d="M1229.8,150V140H1366.3V150" class="br"/>
<text x="1298.1" y="136.1" class="pv">0.39</text>
<path d="M1366.3,111.7V101.7H1502.8V111.7" class="br"/>
<text x="1434.5" y="97.8" class="pv">0.12</text>
<rect x="1012.1" y="81.3" width="708.1" height="455.2" class="fr"/>
<line x1="1007.9" y1="125.8" x2="1012.1" y2="125.8" class="tk"/>
<text transform="translate(1005.1,134.2) scale(0.972,1)" class="yt">0.6</text>
<line x1="1007.9" y1="286.6" x2="1012.1" y2="286.6" class="tk"/>
<text transform="translate(1005.1,295) scale(0.972,1)" class="yt">0.4</text>
<line x1="1007.9" y1="447.4" x2="1012.1" y2="447.4" class="tk"/>
<text transform="translate(1005.1,455.8) scale(0.972,1)" class="yt">0.2</text>
<line x1="1093.4" y1="536.5" x2="1093.4" y2="540.5" class="tk"/>
<text transform="translate(1104.4,557) rotate(-45) scale(0.978,1)" class="xt">SC</text>
<line x1="1229.8" y1="536.5" x2="1229.8" y2="540.5" class="tk"/>
<text transform="translate(1244.5,557) rotate(-45) scale(0.978,1)" class="xt">HDM</text>
<line x1="1366.3" y1="536.5" x2="1366.3" y2="540.5" class="tk"/>
<text transform="translate(1384.7,557) rotate(-45) scale(0.978,1)" class="xt">SHDM</text>
<line x1="1502.8" y1="536.5" x2="1502.8" y2="540.5" class="tk"/>
<text transform="translate(1524.4,557) rotate(-45) scale(0.978,1)" class="xt">SSHDM</text>
<line x1="1639.2" y1="536.5" x2="1639.2" y2="540.5" class="tk"/>
<text transform="translate(1664.1,557) rotate(-45) scale(0.978,1)" class="xt">LT-SSHDM</text>
<text transform="translate(964.4,308.8) rotate(-90) scale(0.963,1)" class="yl">Pearson Correlation</text>
</g>
<g id="p3">
<line x1="183.6" y1="804" x2="892.2" y2="804" class="gmin"/>
<line x1="183.6" y1="951.8" x2="892.2" y2="951.8" class="gmin"/>
<line x1="183.6" y1="1099.3" x2="892.2" y2="1099.3" class="gmin"/>
<line x1="183.6" y1="730" x2="892.2" y2="730" class="gmaj"/>
<line x1="183.6" y1="877.8" x2="892.2" y2="877.8" class="gmaj"/>
<line x1="183.6" y1="1025.6" x2="892.2" y2="1025.6" class="gmaj"/>
<line x1="264.9" y1="668" x2="264.9" y2="1122.4" class="gv"/>
<line x1="401.2" y1="668" x2="401.2" y2="1122.4" class="gv"/>
<line x1="537.5" y1="668" x2="537.5" y2="1122.4" class="gv"/>
<line x1="673.8" y1="668" x2="673.8" y2="1122.4" class="gv"/>
<line x1="810.2" y1="668" x2="810.2" y2="1122.4" class="gv"/>
<path d="M264.9,995.2C265.4,995.9 266.4,997.9 267.9,999.3C269.4,1000.6 271.8,1001.9 273.9,1003.3C276,1004.6 278.8,1005.9 280.5,1007.3C282.3,1008.6 283.7,1009.9 284.5,1011.3C285.4,1012.6 285.7,1013.9 285.7,1015.3C285.8,1016.6 284.9,1018 284.9,1019.3C285,1020.6 284.9,1022 285.9,1023.3C286.9,1024.6 288.8,1026 290.9,1027.3C293.1,1028.6 296.3,1030 299,1031.3C301.6,1032.6 304.6,1034 307,1035.3C309.3,1036.7 311.3,1038 313,1039.3C314.7,1040.7 316.1,1042 317.4,1043.3C318.7,1044.7 319.9,1046 321,1047.3C322.1,1048.7 323.3,1050.2 324,1051.3C324.7,1052.4 325.2,1053 325,1053.9C324.8,1054.9 324.1,1055.5 322.6,1056.8C321.1,1058 318.3,1059.9 316,1061.4C313.7,1062.8 311.3,1064 308.6,1065.4C305.9,1066.7 302.9,1068 300,1069.4C297,1070.7 293.8,1072 290.9,1073.4C288.1,1074.7 285.4,1076.1 282.9,1077.4C280.4,1078.7 278.1,1080 275.9,1081.4C273.7,1082.8 271.7,1084.1 269.9,1085.8C268.1,1087.5 265.7,1090.5 264.9,1091.4C264.1,1090.5 261.7,1087.5 259.9,1085.8C258.1,1084.1 256.1,1082.8 253.9,1081.4C251.7,1080 249.4,1078.7 246.9,1077.4C244.4,1076.1 241.7,1074.7 238.9,1073.4C236,1072 232.8,1070.7 229.8,1069.4C226.9,1068 223.9,1066.7 221.2,1065.4C218.5,1064 216.1,1062.8 213.8,1061.4C211.5,1059.9 208.7,1058 207.2,1056.8C205.7,1055.5 205,1054.9 204.8,1053.9C204.6,1053 205.1,1052.4 205.8,1051.3C206.5,1050.2 207.7,1048.7 208.8,1047.3C209.9,1046 211.1,1044.7 212.4,1043.3C213.7,1042 215.1,1040.7 216.8,1039.3C218.5,1038 220.5,1036.7 222.8,1035.3C225.2,1034 228.2,1032.6 230.8,1031.3C233.5,1030 236.7,1028.6 238.9,1027.3C241,1026 242.9,1024.6 243.9,1023.3C244.9,1022 244.8,1020.6 244.9,1019.3C244.9,1018 244,1016.6 244.1,1015.3C244.1,1013.9 244.4,1012.6 245.3,1011.3C246.1,1009.9 247.5,1008.6 249.3,1007.3C251,1005.9 253.8,1004.6 255.9,1003.3C258,1001.9 260.4,1000.6 261.9,999.3C263.4,997.9 264.4,995.9 264.9,995.2Z" fill="#7f7fff"/>
<path d="M401.2,893.7C401.4,894.4 401.9,896.5 402.4,898.1C402.9,899.6 403.8,901.4 404.4,903.1C405,904.7 405.5,906.4 405.8,908.1C406.1,909.8 406.1,911.4 406.2,913.1C406.3,914.8 406.1,916.4 406.4,918.1C406.7,919.8 407.2,921.4 408.2,923.1C409.2,924.8 410.9,926.5 412.2,928.1C413.6,929.8 415.1,931.5 416.2,933.1C417.4,934.8 418.4,936.5 419.2,938.1C420.1,939.8 420.6,941.5 421.2,943.1C421.8,944.8 422,946.5 422.8,948.2C423.7,949.8 424.8,951.5 426.2,953.2C427.6,954.8 429.8,956.5 431.3,958.2C432.8,959.8 434.3,961.5 435.3,963.2C436.3,964.9 436.8,966.5 437.3,968.2C437.7,969.9 437.9,971.5 438.1,973.2C438.3,974.9 438.4,976.5 438.5,978.2C438.6,979.9 438.8,981.6 438.7,983.2C438.5,984.9 438.4,986.6 437.7,988.2C436.9,989.9 435.7,991.6 434.3,993.2C432.9,994.9 430.8,996.6 429.3,998.2C427.7,999.9 426.6,1001.6 425.2,1003.3C423.9,1004.9 422.5,1006.6 421.2,1008.3C420,1009.9 418.8,1011.6 417.6,1013.3C416.5,1014.9 415.4,1016.6 414.2,1018.3C413.1,1020 411.9,1021.6 410.8,1023.3C409.7,1025 408.6,1026.6 407.6,1028.3C406.6,1030 405.6,1031.8 404.8,1033.3C404,1034.8 403.4,1036 402.8,1037.3C402.2,1038.7 401.5,1040.7 401.2,1041.3C400.9,1040.7 400.2,1038.7 399.6,1037.3C399,1036 398.4,1034.8 397.6,1033.3C396.8,1031.8 395.8,1030 394.8,1028.3C393.8,1026.6 392.7,1025 391.6,1023.3C390.5,1021.6 389.3,1020 388.2,1018.3C387,1016.6 385.9,1014.9 384.8,1013.3C383.6,1011.6 382.4,1009.9 381.2,1008.3C379.9,1006.6 378.5,1004.9 377.2,1003.3C375.8,1001.6 374.7,999.9 373.1,998.2C371.6,996.6 369.5,994.9 368.1,993.2C366.7,991.6 365.5,989.9 364.7,988.2C364,986.6 363.9,984.9 363.7,983.2C363.6,981.6 363.8,979.9 363.9,978.2C364,976.5 364.1,974.9 364.3,973.2C364.5,971.5 364.7,969.9 365.1,968.2C365.6,966.5 366.1,964.9 367.1,963.2C368.1,961.5 369.6,959.8 371.1,958.2C372.6,956.5 374.8,954.8 376.2,953.2C377.6,951.5 378.7,949.8 379.6,948.2C380.4,946.5 380.6,944.8 381.2,943.1C381.8,941.5 382.3,939.8 383.2,938.1C384,936.5 385,934.8 386.2,933.1C387.3,931.5 388.8,929.8 390.2,928.1C391.5,926.5 393.2,924.8 394.2,923.1C395.2,921.4 395.7,919.8 396,918.1C396.3,916.4 396.1,914.8 396.2,913.1C396.3,911.4 396.3,909.8 396.6,908.1C396.9,906.4 397.4,904.7 398,903.1C398.6,901.4 399.5,899.6 400,898.1C400.5,896.5 401,894.4 401.2,893.7Z" fill="#9f94df"/>
<path d="M537.5,875.7C537.8,876.7 538.6,880 539.1,882.1C539.6,884.1 540,886.1 540.3,888.1C540.6,890.1 540.8,892.1 540.9,894.1C541,896.1 540.9,898.1 541.1,900.1C541.3,902.1 541.3,904.1 541.9,906.1C542.5,908.1 543.4,910.1 544.5,912.1C545.6,914.1 547.2,916.1 548.5,918.1C549.9,920.1 551.3,922.1 552.5,924.2C553.8,926.2 554.8,928.2 555.9,930.2C557,932.2 558,934.2 559.1,936.2C560.2,938.2 561.4,940.2 562.5,942.2C563.7,944.2 564.9,946.2 566,948.2C567,950.2 567.9,952.2 568.6,954.2C569.3,956.2 569.8,958.2 570.2,960.2C570.6,962.2 570.7,964.2 571,966.2C571.2,968.2 571.4,970.2 571.6,972.2C571.7,974.2 571.9,976.6 572,978.2C572,979.9 572.3,980.6 572,982.3C571.6,983.9 571,986.3 570,988.3C569,990.3 567.4,992.3 566,994.3C564.5,996.3 562.8,998.3 561.1,1000.3C559.5,1002.3 557.6,1004.3 555.9,1006.3C554.3,1008.3 552.8,1010.3 551.1,1012.3C549.5,1014.3 547.5,1016.3 545.9,1018.3C544.3,1020.3 542.6,1022.3 541.5,1024.3C540.4,1026.3 539.8,1028.5 539.1,1030.3C538.4,1032.2 537.8,1034.5 537.5,1035.4C537.2,1034.5 536.6,1032.2 535.9,1030.3C535.2,1028.5 534.6,1026.3 533.5,1024.3C532.4,1022.3 530.7,1020.3 529.1,1018.3C527.5,1016.3 525.5,1014.3 523.9,1012.3C522.2,1010.3 520.7,1008.3 519.1,1006.3C517.4,1004.3 515.5,1002.3 513.9,1000.3C512.2,998.3 510.5,996.3 509,994.3C507.6,992.3 506,990.3 505,988.3C504,986.3 503.4,983.9 503,982.3C502.7,980.6 503,979.9 503,978.2C503.1,976.6 503.3,974.2 503.4,972.2C503.6,970.2 503.8,968.2 504,966.2C504.3,964.2 504.4,962.2 504.8,960.2C505.2,958.2 505.7,956.2 506.4,954.2C507.1,952.2 508,950.2 509,948.2C510.1,946.2 511.3,944.2 512.5,942.2C513.6,940.2 514.8,938.2 515.9,936.2C517,934.2 518,932.2 519.1,930.2C520.2,928.2 521.2,926.2 522.5,924.2C523.7,922.1 525.1,920.1 526.5,918.1C527.8,916.1 529.4,914.1 530.5,912.1C531.6,910.1 532.5,908.1 533.1,906.1C533.7,904.1 533.7,902.1 533.9,900.1C534.1,898.1 534,896.1 534.1,894.1C534.2,892.1 534.4,890.1 534.7,888.1C535,886.1 535.4,884.1 535.9,882.1C536.4,880 537.2,876.7 537.5,875.7Z" fill="#bfa9bf"/>
<path d="M673.8,875.7C674.3,876.7 675.6,880 676.6,882.1C677.6,884.1 678.8,886.1 679.8,888.1C680.8,890.1 682.1,892.1 682.8,894.1C683.6,896.1 683.9,898.1 684.2,900.1C684.6,902.1 684.7,904.1 685,906.1C685.4,908.1 685.5,910.1 686.2,912.1C687,914.1 687.8,916.1 689.4,918.1C691,920.1 693.4,922.3 695.8,924.2C698.2,926 701,927.5 703.9,929.2C706.7,930.8 710.5,932.7 712.9,934.2C715.3,935.7 717.2,937 718.3,938.2C719.4,939.3 719.3,940.7 719.5,941.2C719,941.8 718.1,943.7 716.9,945.2C715.6,946.7 713.4,948.4 711.9,950.2C710.4,952 709.2,954.2 707.9,956.2C706.5,958.2 705.3,960.2 703.9,962.2C702.5,964.2 700.9,966.2 699.4,968.2C697.9,970.2 696.1,972.2 694.8,974.2C693.6,976.2 692.6,978.2 691.8,980.3C691.1,982.3 690.6,984.3 690.2,986.3C689.9,988.3 690.1,990.3 689.8,992.3C689.6,994.3 689.5,996.3 688.8,998.3C688.2,1000.3 687.2,1002.3 685.8,1004.3C684.5,1006.3 682.4,1008.5 680.8,1010.3C679.2,1012.1 677.4,1013.8 676.2,1015.3C675,1016.8 674.2,1018.7 673.8,1019.3C673.4,1018.7 672.6,1016.8 671.4,1015.3C670.2,1013.8 668.4,1012.1 666.8,1010.3C665.2,1008.5 663.1,1006.3 661.8,1004.3C660.4,1002.3 659.4,1000.3 658.8,998.3C658.1,996.3 658,994.3 657.8,992.3C657.5,990.3 657.7,988.3 657.4,986.3C657,984.3 656.5,982.3 655.8,980.3C655,978.2 654,976.2 652.8,974.2C651.5,972.2 649.7,970.2 648.2,968.2C646.7,966.2 645.1,964.2 643.7,962.2C642.3,960.2 641.1,958.2 639.7,956.2C638.4,954.2 637.2,952 635.7,950.2C634.2,948.4 632,946.7 630.7,945.2C629.5,943.7 628.6,941.8 628.1,941.2C628.3,940.7 628.2,939.3 629.3,938.2C630.4,937 632.3,935.7 634.7,934.2C637.1,932.7 640.9,930.8 643.7,929.2C646.6,927.5 649.4,926 651.8,924.2C654.2,922.3 656.6,920.1 658.2,918.1C659.8,916.1 660.6,914.1 661.4,912.1C662.1,910.1 662.2,908.1 662.6,906.1C662.9,904.1 663,902.1 663.4,900.1C663.7,898.1 664,896.1 664.8,894.1C665.5,892.1 666.8,890.1 667.8,888.1C668.8,886.1 670,884.1 671,882.1C672,880 673.3,876.7 673.8,875.7Z" fill="#dfbd9f"/>
<path d="M810.2,723.7C810.7,724.4 811.7,726.7 813.2,728.1C814.7,729.5 816.9,730.8 819.2,732.1C821.6,733.5 824.7,734.8 827.2,736.1C829.7,737.5 832.2,738.8 834.2,740.1C836.2,741.5 837.9,742.8 839.3,744.2C840.6,745.5 841.5,746.8 842.3,748.2C843,749.5 843.5,750.8 843.9,752.2C844.2,753.5 844.3,754.8 844.3,756.2C844.3,757.5 844.2,758.8 843.9,760.2C843.5,761.5 842.9,762.7 842.3,764.2C841.7,765.7 840.4,767.5 840.3,769.2C840.1,770.9 840.4,772.5 841.3,774.2C842.1,775.9 843.8,777.5 845.3,779.2C846.8,780.9 848.8,782.7 850.3,784.2C851.7,785.7 853,787.1 853.9,788.2C854.7,789.4 855.1,790.2 855.3,791.2C855.4,792.2 855.5,793.1 854.7,794.2C853.8,795.4 852.2,796.9 850.3,798.2C848.4,799.6 845.8,800.9 843.3,802.3C840.8,803.6 837.8,804.9 835.2,806.3C832.7,807.6 830.2,808.9 827.8,810.3C825.5,811.6 823.1,812.9 821.2,814.3C819.3,815.6 817.8,816.9 816.6,818.3C815.4,819.6 814.7,821 814.2,822.3C813.7,823.6 813.4,825 813.4,826.3C813.4,827.6 813.7,828.8 814.2,830.3C814.7,831.8 815.9,833.6 816.6,835.3C817.3,837 818.1,838.8 818.6,840.3C819.1,841.8 819.3,843 819.4,844.3C819.5,845.7 819.5,847 819.2,848.3C818.9,849.7 818.5,851 817.8,852.3C817.1,853.7 816.1,855 815.2,856.4C814.3,857.7 813.4,858.9 812.6,860.4C811.8,861.9 810.6,864.5 810.2,865.4C809.8,864.5 808.6,861.9 807.8,860.4C807,858.9 806.1,857.7 805.2,856.4C804.3,855 803.3,853.7 802.6,852.3C801.9,851 801.5,849.7 801.2,848.3C800.9,847 800.9,845.7 801,844.3C801.1,843 801.3,841.8 801.8,840.3C802.3,838.8 803.1,837 803.8,835.3C804.5,833.6 805.7,831.8 806.2,830.3C806.7,828.8 807,827.6 807,826.3C807,825 806.7,823.6 806.2,822.3C805.7,821 805,819.6 803.8,818.3C802.6,816.9 801.1,815.6 799.2,814.3C797.3,812.9 794.9,811.6 792.6,810.3C790.2,808.9 787.7,807.6 785.2,806.3C782.6,804.9 779.6,803.6 777.1,802.3C774.6,800.9 772,799.6 770.1,798.2C768.2,796.9 766.6,795.4 765.7,794.2C764.9,793.1 765,792.2 765.1,791.2C765.3,790.2 765.7,789.4 766.5,788.2C767.4,787.1 768.7,785.7 770.1,784.2C771.6,782.7 773.6,780.9 775.1,779.2C776.6,777.5 778.3,775.9 779.1,774.2C780,772.5 780.3,770.9 780.1,769.2C780,767.5 778.7,765.7 778.1,764.2C777.5,762.7 776.9,761.5 776.5,760.2C776.2,758.8 776.1,757.5 776.1,756.2C776.1,754.8 776.2,753.5 776.5,752.2C776.9,750.8 777.4,749.5 778.1,748.2C778.9,746.8 779.8,745.5 781.1,744.2C782.5,742.8 784.2,741.5 786.2,740.1C788.2,738.8 790.7,737.5 793.2,736.1C795.7,734.8 798.8,733.5 801.2,732.1C803.5,730.8 805.7,729.5 807.2,728.1C808.7,726.7 809.7,724.4 810.2,723.7Z" fill="#fecf7d"/>
<line x1="183.6" y1="730" x2="892.2" y2="730" class="gov"/>
<line x1="183.6" y1="877.8" x2="892.2" y2="877.8" class="gov"/>
<line x1="183.6" y1="1025.6" x2="892.2" y2="1025.6" class="gov"/>
<line x1="183.6" y1="804" x2="892.2" y2="804" class="gov"/>
<line x1="183.6" y1="951.8" x2="892.2" y2="951.8" class="gov"/>
<line x1="183.6" y1="1099.3" x2="892.2" y2="1099.3" class="gov"/>
<line x1="264.5" y1="1010.3" x2="264.5" y2="1077.4" class="wh"/>
<rect x="251.5" y="1035.5" width="27" height="24" class="bx"/>
<line x1="251.5" y1="1049" x2="278.5" y2="1049" class="md"/>
<line x1="401.5" y1="933.7" x2="401.5" y2="1024.3" class="wh"/>
<rect x="387.5" y="960.5" width="28" height="32" class="bx"/>
<line x1="387.5" y1="974" x2="415.5" y2="974" class="md"/>
<line x1="537.5" y1="923.1" x2="537.5" y2="1015.3" class="wh"/>
<rect x="523.5" y="951.5" width="28" height="35" class="bx"/>
<line x1="523.5" y1="967" x2="551.5" y2="967" class="md"/>
<line x1="673.5" y1="891.7" x2="673.5" y2="1000.9" class="wh"/>
<rect x="660.5" y="936.5" width="27" height="31" class="bx"/>
<line x1="660.5" y1="944" x2="687.5" y2="944" class="md"/>
<line x1="810.5" y1="745.2" x2="810.5" y2="841.9" class="wh"/>
<rect x="796.5" y="762.5" width="28" height="33" class="bx"/>
<line x1="796.5" y1="785" x2="824.5" y2="785" class="md"/>
<path d="M401.2,738.4V728.4H537.5V738.4" class="br"/>
<text x="469.4" y="724.5" class="pv">8.9e-11</text>
<path d="M537.5,698.8V688.8H673.8V698.8" class="br"/>
<text x="605.6" y="684.9" class="pv">1.1e-09</text>
<rect x="183.6" y="668" width="708.6" height="454.4" class="fr"/>
<line x1="179.4" y1="730" x2="183.6" y2="730" class="tk"/>
<text transform="translate(176.6,738.4) scale(0.972,1)" class="yt">0.6</text>
<line x1="179.4" y1="877.8" x2="183.6" y2="877.8" class="tk"/>
<text transform="translate(176.6,886.2) scale(0.972,1)" class="yt">0.4</text>
<line x1="179.4" y1="1025.6" x2="183.6" y2="1025.6" class="tk"/>
<text transform="translate(176.6,1034) scale(0.972,1)" class="yt">0.2</text>
<line x1="264.9" y1="1122.4" x2="264.9" y2="1126.4" class="tk"/>
<text transform="translate(277.1,1140.5) rotate(-45) scale(0.978,1)" class="xt">SC</text>
<line x1="401.2" y1="1122.4" x2="401.2" y2="1126.4" class="tk"/>
<text transform="translate(417.1,1140.5) rotate(-45) scale(0.978,1)" class="xt">HDM</text>
<line x1="537.5" y1="1122.4" x2="537.5" y2="1126.4" class="tk"/>
<text transform="translate(557.1,1140.5) rotate(-45) scale(0.978,1)" class="xt">SHDM</text>
<line x1="673.8" y1="1122.4" x2="673.8" y2="1126.4" class="tk"/>
<text transform="translate(696.7,1140.5) rotate(-45) scale(0.978,1)" class="xt">SSHDM</text>
<line x1="810.2" y1="1122.4" x2="810.2" y2="1126.4" class="tk"/>
<text transform="translate(836.3,1140.5) rotate(-45) scale(0.978,1)" class="xt">LT-SSHDM</text>
<text transform="translate(136.1,895.2) rotate(-90) scale(0.963,1)" class="yl">Pearson Correlation</text>
</g>
<g id="p4">
<line x1="1012.1" y1="696.5" x2="1720.2" y2="696.5" class="gmin"/>
<line x1="1012.1" y1="831.5" x2="1720.2" y2="831.5" class="gmin"/>
<line x1="1012.1" y1="966.5" x2="1720.2" y2="966.5" class="gmin"/>
<line x1="1012.1" y1="1101.5" x2="1720.2" y2="1101.5" class="gmin"/>
<line x1="1012.1" y1="764" x2="1720.2" y2="764" class="gmaj"/>
<line x1="1012.1" y1="899" x2="1720.2" y2="899" class="gmaj"/>
<line x1="1012.1" y1="1034" x2="1720.2" y2="1034" class="gmaj"/>
<line x1="1093.4" y1="667.6" x2="1093.4" y2="1122.4" class="gv"/>
<line x1="1229.8" y1="667.6" x2="1229.8" y2="1122.4" class="gv"/>
<line x1="1366.3" y1="667.6" x2="1366.3" y2="1122.4" class="gv"/>
<line x1="1502.8" y1="667.6" x2="1502.8" y2="1122.4" class="gv"/>
<line x1="1639.2" y1="667.6" x2="1639.2" y2="1122.4" class="gv"/>
<path d="M1093.4,1008.8C1093.9,1009.4 1095.5,1011 1096.4,1012.2C1097.3,1013.5 1098.4,1014.9 1099,1016.2C1099.6,1017.6 1099.8,1018.9 1099.8,1020.3C1099.8,1021.6 1099.1,1022.9 1099,1024.3C1098.9,1025.6 1098.5,1027.1 1099.4,1028.3C1100.3,1029.4 1101.6,1030.1 1104.2,1031.1C1106.8,1032 1111.2,1032.9 1115,1033.9C1118.9,1034.8 1123.5,1035.7 1127.5,1036.7C1131.5,1037.6 1135.6,1038.6 1139.1,1039.5C1142.6,1040.4 1145.9,1041.2 1148.3,1042.1C1150.7,1043 1152.6,1044.3 1153.5,1044.7C1153,1045.1 1151.7,1046.4 1150.5,1047.3C1149.3,1048.2 1147.7,1049.1 1146.5,1050.3C1145.3,1051.5 1143.9,1053 1143.1,1054.3C1142.3,1055.6 1141.7,1057.2 1141.5,1058.3C1141.3,1059.5 1141.9,1060.3 1142.1,1061.3C1142.3,1062.3 1143.1,1063.3 1142.5,1064.3C1141.9,1065.3 1140.3,1066.3 1138.5,1067.3C1136.6,1068.3 1133.8,1069.3 1131.5,1070.3C1129.1,1071.3 1126.8,1072.3 1124.5,1073.3C1122.1,1074.3 1119.6,1075.4 1117.4,1076.4C1115.3,1077.4 1113.4,1078.4 1111.4,1079.4C1109.5,1080.4 1107.6,1081.4 1105.8,1082.4C1104.1,1083.4 1102.5,1084.4 1101,1085.4C1099.5,1086.4 1098.3,1087.3 1097,1088.4C1095.7,1089.5 1094,1091.4 1093.4,1092C1092.8,1091.4 1091.1,1089.5 1089.8,1088.4C1088.5,1087.3 1087.3,1086.4 1085.8,1085.4C1084.3,1084.4 1082.7,1083.4 1081,1082.4C1079.2,1081.4 1077.3,1080.4 1075.4,1079.4C1073.4,1078.4 1071.5,1077.4 1069.4,1076.4C1067.2,1075.4 1064.7,1074.3 1062.3,1073.3C1060,1072.3 1057.7,1071.3 1055.3,1070.3C1053,1069.3 1050.2,1068.3 1048.3,1067.3C1046.5,1066.3 1044.9,1065.3 1044.3,1064.3C1043.7,1063.3 1044.5,1062.3 1044.7,1061.3C1044.9,1060.3 1045.5,1059.5 1045.3,1058.3C1045.1,1057.2 1044.5,1055.6 1043.7,1054.3C1042.9,1053 1041.5,1051.5 1040.3,1050.3C1039.1,1049.1 1037.5,1048.2 1036.3,1047.3C1035.1,1046.4 1033.8,1045.1 1033.3,1044.7C1034.2,1044.3 1036.1,1043 1038.5,1042.1C1040.9,1041.2 1044.2,1040.4 1047.7,1039.5C1051.2,1038.6 1055.3,1037.6 1059.3,1036.7C1063.3,1035.7 1067.9,1034.8 1071.8,1033.9C1075.6,1032.9 1080,1032 1082.6,1031.1C1085.2,1030.1 1086.5,1029.4 1087.4,1028.3C1088.3,1027.1 1087.9,1025.6 1087.8,1024.3C1087.7,1022.9 1087,1021.6 1087,1020.3C1087,1018.9 1087.2,1017.6 1087.8,1016.2C1088.4,1014.9 1089.5,1013.5 1090.4,1012.2C1091.3,1011 1092.9,1009.4 1093.4,1008.8Z" fill="#7f7fff"/>
<path d="M1229.8,943.7C1230.7,944.4 1233.2,946.7 1234.9,948.1C1236.5,949.5 1238.2,950.8 1239.9,952.1C1241.5,953.5 1243.2,954.8 1244.9,956.1C1246.5,957.5 1248.3,958.8 1249.9,960.1C1251.5,961.5 1252.8,962.8 1254.3,964.2C1255.8,965.5 1257.5,966.8 1258.9,968.2C1260.3,969.5 1261.8,970.8 1262.9,972.2C1264,973.5 1265,974.8 1265.5,976.2C1266,977.5 1265.7,978.8 1265.9,980.2C1266.1,981.5 1266.1,982.9 1266.9,984.2C1267.8,985.5 1269.3,987 1270.9,988.2C1272.6,989.4 1275,990.3 1276.9,991.2C1278.8,992.1 1281.1,993 1282.3,993.8C1283.6,994.6 1284,995.5 1284.3,995.8C1283.8,996.2 1282.8,997.3 1280.9,998.2C1279,999.1 1275.8,1000.2 1272.9,1001.2C1270.1,1002.2 1266.7,1003.2 1263.9,1004.2C1261.1,1005.2 1258.2,1006.2 1255.9,1007.2C1253.6,1008.2 1251.4,1009.2 1249.9,1010.2C1248.4,1011.2 1247.6,1012.2 1246.9,1013.2C1246.1,1014.2 1245.6,1015.2 1245.5,1016.2C1245.3,1017.2 1245.7,1018.2 1245.9,1019.3C1246,1020.3 1246.5,1021.3 1246.3,1022.3C1246,1023.3 1245.2,1024.3 1244.3,1025.3C1243.4,1026.3 1242.1,1027.3 1240.9,1028.3C1239.6,1029.3 1238.2,1030.3 1236.9,1031.3C1235.5,1032.3 1234,1033.2 1232.9,1034.3C1231.7,1035.4 1230.4,1037.3 1229.8,1037.9C1229.3,1037.3 1228,1035.4 1226.8,1034.3C1225.7,1033.2 1224.2,1032.3 1222.8,1031.3C1221.5,1030.3 1220.1,1029.3 1218.8,1028.3C1217.6,1027.3 1216.3,1026.3 1215.4,1025.3C1214.5,1024.3 1213.7,1023.3 1213.4,1022.3C1213.2,1021.3 1213.7,1020.3 1213.8,1019.3C1214,1018.2 1214.4,1017.2 1214.2,1016.2C1214.1,1015.2 1213.6,1014.2 1212.8,1013.2C1212.1,1012.2 1211.3,1011.2 1209.8,1010.2C1208.3,1009.2 1206.1,1008.2 1203.8,1007.2C1201.5,1006.2 1198.6,1005.2 1195.8,1004.2C1193,1003.2 1189.6,1002.2 1186.8,1001.2C1183.9,1000.2 1180.7,999.1 1178.8,998.2C1176.9,997.3 1175.9,996.2 1175.4,995.8C1175.7,995.5 1176.1,994.6 1177.4,993.8C1178.6,993 1180.9,992.1 1182.8,991.2C1184.7,990.3 1187.1,989.4 1188.8,988.2C1190.4,987 1191.9,985.5 1192.8,984.2C1193.6,982.9 1193.6,981.5 1193.8,980.2C1194,978.8 1193.7,977.5 1194.2,976.2C1194.7,974.8 1195.7,973.5 1196.8,972.2C1197.9,970.8 1199.4,969.5 1200.8,968.2C1202.2,966.8 1203.9,965.5 1205.4,964.2C1206.9,962.8 1208.2,961.5 1209.8,960.1C1211.4,958.8 1213.2,957.5 1214.8,956.1C1216.5,954.8 1218.2,953.5 1219.8,952.1C1221.5,950.8 1223.2,949.5 1224.8,948.1C1226.5,946.7 1229,944.4 1229.8,943.7Z" fill="#9f94df"/>
<path d="M1366.3,928.1C1366.7,929 1367.8,931.5 1368.7,933.1C1369.6,934.8 1370.9,936.5 1371.9,938.1C1372.9,939.8 1373.8,941.5 1374.7,943.1C1375.6,944.8 1376.6,946.5 1377.3,948.2C1378.1,949.8 1378.7,951.5 1379.3,953.2C1380,954.8 1380.6,956.5 1381.3,958.2C1382.1,959.8 1382.9,961.5 1383.9,963.2C1384.9,964.9 1386.1,966.7 1387.3,968.2C1388.6,969.7 1389.8,970.9 1391.3,972.2C1392.8,973.5 1394.7,974.9 1396.4,976.2C1398,977.5 1400.1,979 1401.4,980.2C1402.6,981.4 1403.4,982.3 1404,983.2C1404.6,984.2 1404.8,985.4 1405,985.8C1404.7,986.4 1404.3,988 1403.4,989.2C1402.4,990.5 1400.6,991.9 1399.4,993.2C1398.1,994.6 1396.9,995.9 1396,997.2C1395.1,998.6 1394.5,999.9 1393.9,1001.3C1393.4,1002.6 1393,1003.9 1392.7,1005.3C1392.5,1006.6 1392.5,1007.9 1392.3,1009.3C1392.2,1010.6 1392.3,1011.9 1391.9,1013.3C1391.6,1014.6 1391.3,1015.9 1390.3,1017.3C1389.4,1018.6 1387.7,1020 1386.3,1021.3C1385,1022.6 1383.6,1024 1382.3,1025.3C1381.1,1026.6 1379.8,1028 1378.7,1029.3C1377.7,1030.6 1376.8,1032 1375.9,1033.3C1375,1034.6 1374.1,1036 1373.3,1037.3C1372.5,1038.7 1371.8,1040 1371.1,1041.3C1370.4,1042.7 1369.7,1044 1369.1,1045.3C1368.5,1046.7 1368,1047.9 1367.5,1049.3C1367,1050.8 1366.5,1053.2 1366.3,1053.9C1366.1,1053.2 1365.6,1050.8 1365.1,1049.3C1364.6,1047.9 1364.1,1046.7 1363.5,1045.3C1362.9,1044 1362.2,1042.7 1361.5,1041.3C1360.8,1040 1360.1,1038.7 1359.3,1037.3C1358.5,1036 1357.6,1034.6 1356.7,1033.3C1355.8,1032 1354.9,1030.6 1353.9,1029.3C1352.8,1028 1351.5,1026.6 1350.3,1025.3C1349,1024 1347.6,1022.6 1346.3,1021.3C1344.9,1020 1343.2,1018.6 1342.3,1017.3C1341.3,1015.9 1341,1014.6 1340.7,1013.3C1340.3,1011.9 1340.4,1010.6 1340.3,1009.3C1340.1,1007.9 1340.1,1006.6 1339.9,1005.3C1339.6,1003.9 1339.2,1002.6 1338.7,1001.3C1338.1,999.9 1337.5,998.6 1336.6,997.2C1335.7,995.9 1334.5,994.6 1333.2,993.2C1332,991.9 1330.2,990.5 1329.2,989.2C1328.3,988 1327.9,986.4 1327.6,985.8C1327.8,985.4 1328,984.2 1328.6,983.2C1329.2,982.3 1330,981.4 1331.2,980.2C1332.5,979 1334.6,977.5 1336.2,976.2C1337.9,974.9 1339.8,973.5 1341.3,972.2C1342.8,970.9 1344,969.7 1345.3,968.2C1346.5,966.7 1347.7,964.9 1348.7,963.2C1349.7,961.5 1350.5,959.8 1351.3,958.2C1352,956.5 1352.6,954.8 1353.3,953.2C1353.9,951.5 1354.5,949.8 1355.3,948.2C1356,946.5 1357,944.8 1357.9,943.1C1358.8,941.5 1359.7,939.8 1360.7,938.1C1361.7,936.5 1363,934.8 1363.9,933.1C1364.8,931.5 1365.9,929 1366.3,928.1Z" fill="#bfa9bf"/>
<path d="M1502.8,912.5C1503.2,913.3 1504.2,915.5 1505.2,917.1C1506.1,918.7 1507.4,920.4 1508.4,922.1C1509.4,923.8 1510.2,925.5 1511.2,927.1C1512.2,928.8 1513.3,930.5 1514.4,932.1C1515.5,933.8 1516.5,935.5 1517.8,937.1C1519,938.8 1520.3,940.5 1521.8,942.1C1523.2,943.8 1524.7,945.5 1526.4,947.2C1528.1,948.8 1529.9,950.5 1531.8,952.2C1533.7,953.8 1536.1,955.7 1537.8,957.2C1539.5,958.7 1540.8,960 1541.8,961.2C1542.9,962.4 1543.7,963.3 1544.2,964.2C1544.8,965.1 1545.1,966.4 1545.2,966.8C1544.8,967.4 1543.9,969 1542.8,970.2C1541.8,971.4 1540.2,972.9 1538.8,974.2C1537.5,975.5 1536.1,976.9 1534.8,978.2C1533.5,979.5 1532.1,980.9 1530.8,982.2C1529.5,983.6 1528.1,984.9 1526.8,986.2C1525.5,987.6 1524,988.9 1522.8,990.2C1521.6,991.6 1520.5,992.9 1519.8,994.2C1519,995.6 1518.7,996.9 1518.4,998.2C1518,999.6 1518,1000.9 1517.8,1002.3C1517.5,1003.6 1517.3,1004.9 1516.8,1006.3C1516.3,1007.6 1515.6,1008.9 1514.8,1010.3C1513.9,1011.6 1512.8,1012.9 1511.8,1014.3C1510.7,1015.6 1509.5,1016.9 1508.4,1018.3C1507.3,1019.6 1506.1,1021 1505.2,1022.3C1504.2,1023.6 1503.2,1025.6 1502.8,1026.3C1502.3,1025.6 1501.3,1023.6 1500.3,1022.3C1499.4,1021 1498.2,1019.6 1497.1,1018.3C1496,1016.9 1494.8,1015.6 1493.7,1014.3C1492.7,1012.9 1491.6,1011.6 1490.7,1010.3C1489.9,1008.9 1489.2,1007.6 1488.7,1006.3C1488.2,1004.9 1488,1003.6 1487.7,1002.3C1487.5,1000.9 1487.5,999.6 1487.1,998.2C1486.8,996.9 1486.5,995.6 1485.7,994.2C1485,992.9 1483.9,991.6 1482.7,990.2C1481.5,988.9 1480,987.6 1478.7,986.2C1477.4,984.9 1476,983.6 1474.7,982.2C1473.4,980.9 1472,979.5 1470.7,978.2C1469.4,976.9 1468,975.5 1466.7,974.2C1465.3,972.9 1463.7,971.4 1462.7,970.2C1461.6,969 1460.7,967.4 1460.3,966.8C1460.4,966.4 1460.7,965.1 1461.3,964.2C1461.8,963.3 1462.6,962.4 1463.7,961.2C1464.7,960 1466,958.7 1467.7,957.2C1469.4,955.7 1471.8,953.8 1473.7,952.2C1475.6,950.5 1477.4,948.8 1479.1,947.2C1480.8,945.5 1482.3,943.8 1483.7,942.1C1485.2,940.5 1486.5,938.8 1487.7,937.1C1489,935.5 1490,933.8 1491.1,932.1C1492.2,930.5 1493.3,928.8 1494.3,927.1C1495.3,925.5 1496.1,923.8 1497.1,922.1C1498.1,920.4 1499.4,918.7 1500.3,917.1C1501.3,915.5 1502.3,913.3 1502.8,912.5Z" fill="#dfbd9f"/>
<path d="M1639.2,729.1C1639.5,729.9 1640.2,732.3 1640.8,734.1C1641.4,736 1642.1,738.1 1642.8,740.1C1643.5,742.1 1644.1,744.1 1644.8,746.1C1645.5,748.1 1646.1,750.1 1646.8,752.1C1647.5,754.2 1648.2,756.2 1648.8,758.2C1649.4,760.2 1650,762.2 1650.4,764.2C1650.8,766.2 1651,768.3 1651.2,770.2C1651.4,772 1651.3,773.7 1651.6,775.2C1652,776.7 1652.3,777.9 1653.2,779.2C1654.2,780.5 1655.6,781.9 1657.2,783.2C1658.9,784.5 1661.2,786 1663.2,787.2C1665.2,788.4 1667.5,789.2 1669.3,790.2C1671,791.2 1672.5,792.2 1673.7,793.2C1674.8,794.2 1675.7,795.2 1676.3,796.2C1676.9,797.2 1677.1,798.7 1677.3,799.2C1677,799.7 1676.3,801.1 1675.7,802.2C1675,803.4 1674,804.9 1673.3,806.2C1672.5,807.6 1671.9,808.9 1671.3,810.3C1670.7,811.6 1670.2,812.9 1669.7,814.3C1669.2,815.6 1668.7,816.9 1668.3,818.3C1667.8,819.6 1667.5,820.9 1666.8,822.3C1666.2,823.6 1665.2,824.9 1664.2,826.3C1663.3,827.6 1662.2,829 1661.2,830.3C1660.2,831.6 1659.2,833 1658.2,834.3C1657.3,835.6 1656.5,837 1655.6,838.3C1654.7,839.6 1653.7,841 1652.8,842.3C1651.9,843.6 1651.1,845 1650.2,846.3C1649.4,847.7 1648.4,849 1647.6,850.3C1646.8,851.7 1646.3,853 1645.6,854.3C1644.9,855.7 1644.2,857 1643.6,858.3C1643,859.7 1642.5,861 1642,862.3C1641.5,863.7 1641.3,864.9 1640.8,866.4C1640.3,867.9 1639.5,870.5 1639.2,871.4C1638.9,870.5 1638.1,867.9 1637.6,866.4C1637.1,864.9 1636.9,863.7 1636.4,862.3C1635.9,861 1635.4,859.7 1634.8,858.3C1634.2,857 1633.5,855.7 1632.8,854.3C1632.1,853 1631.6,851.7 1630.8,850.3C1630,849 1629,847.7 1628.2,846.3C1627.3,845 1626.5,843.6 1625.6,842.3C1624.7,841 1623.7,839.6 1622.8,838.3C1621.9,837 1621.1,835.6 1620.2,834.3C1619.2,833 1618.2,831.6 1617.2,830.3C1616.2,829 1615.1,827.6 1614.2,826.3C1613.2,824.9 1612.2,823.6 1611.6,822.3C1610.9,820.9 1610.6,819.6 1610.1,818.3C1609.7,816.9 1609.2,815.6 1608.7,814.3C1608.2,812.9 1607.7,811.6 1607.1,810.3C1606.5,808.9 1605.9,807.6 1605.1,806.2C1604.4,804.9 1603.4,803.4 1602.7,802.2C1602.1,801.1 1601.4,799.7 1601.1,799.2C1601.3,798.7 1601.5,797.2 1602.1,796.2C1602.7,795.2 1603.6,794.2 1604.7,793.2C1605.9,792.2 1607.4,791.2 1609.1,790.2C1610.9,789.2 1613.2,788.4 1615.2,787.2C1617.2,786 1619.5,784.5 1621.2,783.2C1622.8,781.9 1624.2,780.5 1625.2,779.2C1626.1,777.9 1626.4,776.7 1626.8,775.2C1627.1,773.7 1627,772 1627.2,770.2C1627.4,768.3 1627.6,766.2 1628,764.2C1628.4,762.2 1629,760.2 1629.6,758.2C1630.2,756.2 1630.9,754.2 1631.6,752.1C1632.3,750.1 1632.9,748.1 1633.6,746.1C1634.3,744.1 1634.9,742.1 1635.6,740.1C1636.3,738.1 1637,736 1637.6,734.1C1638.2,732.3 1638.9,729.9 1639.2,729.1Z" fill="#fecf7d"/>
<line x1="1012.1" y1="764" x2="1720.2" y2="764" class="gov"/>
<line x1="1012.1" y1="899" x2="1720.2" y2="899" class="gov"/>
<line x1="1012.1" y1="1034" x2="1720.2" y2="1034" class="gov"/>
<line x1="1012.1" y1="696.5" x2="1720.2" y2="696.5" class="gov"/>
<line x1="1012.1" y1="831.5" x2="1720.2" y2="831.5" class="gov"/>
<line x1="1012.1" y1="966.5" x2="1720.2" y2="966.5" class="gov"/>
<line x1="1012.1" y1="1101.5" x2="1720.2" y2="1101.5" class="gov"/>
<line x1="1093.5" y1="1020.3" x2="1093.5" y2="1080.4" class="wh"/>
<rect x="1079.5" y="1043.5" width="28" height="21" class="bx"/>
<line x1="1079.5" y1="1051" x2="1107.5" y2="1051" class="md"/>
<line x1="1229.5" y1="956.1" x2="1229.5" y2="1024.7" class="wh"/>
<rect x="1216.5" y="976.5" width="27" height="22" class="bx"/>
<line x1="1216.5" y1="992" x2="1243.5" y2="992" class="md"/>
<line x1="1366.5" y1="944.2" x2="1366.5" y2="1036.3" class="wh"/>
<rect x="1352.5" y="978.5" width="28" height="30" class="bx"/>
<line x1="1352.5" y1="987" x2="1380.5" y2="987" class="md"/>
<line x1="1502.5" y1="928.1" x2="1502.5" y2="1010.7" class="wh"/>
<rect x="1488.5" y="954.5" width="28" height="30" class="bx"/>
<line x1="1488.5" y1="966" x2="1516.5" y2="966" class="md"/>
<line x1="1639.5" y1="760.6" x2="1639.5" y2="856.3" class="wh"/>
<rect x="1625.5" y="792.5" width="28" height="30" class="bx"/>
<line x1="1625.5" y1="803" x2="1653.5" y2="803" class="md"/>
<path d="M1229.8,738.6V728.6H1366.3V738.6" class="br"/>
<text x="1298.1" y="724.7" class="pv">0.82</text>
<path d="M1366.3,698.9V688.9H1502.8V698.9" class="br"/>
<text x="1434.5" y="685" class="pv">3.9e-12</text>
<rect x="1012.1" y="667.6" width="708.1" height="454.8" class="fr"/>
<line x1="1007.9" y1="764" x2="1012.1" y2="764" class="tk"/>
<text transform="translate(1005.1,772.4) scale(0.972,1)" class="yt">0.6</text>
<line x1="1007.9" y1="899" x2="1012.1" y2="899" class="tk"/>
<text transform="translate(1005.1,907.4) scale(0.972,1)" class="yt">0.4</text>
<line x1="1007.9" y1="1034" x2="1012.1" y2="1034" class="tk"/>
<text transform="translate(1005.1,1042.4) scale(0.972,1)" class="yt">0.2</text>
<line x1="1093.4" y1="1122.4" x2="1093.4" y2="1126.4" class="tk"/>
<text transform="translate(1104.4,1140.5) rotate(-45) scale(0.978,1)" class="xt">SC</text>
<line x1="1229.8" y1="1122.4" x2="1229.8" y2="1126.4" class="tk"/>
<text transform="translate(1244.5,1140.5) rotate(-45) scale(0.978,1)" class="xt">HDM</text>
<line x1="1366.3" y1="1122.4" x2="1366.3" y2="1126.4" class="tk"/>
<text transform="translate(1384.7,1140.5) rotate(-45) scale(0.978,1)" class="xt">SHDM</text>
<line x1="1502.8" y1="1122.4" x2="1502.8" y2="1126.4" class="tk"/>
<text transform="translate(1524.4,1140.5) rotate(-45) scale(0.978,1)" class="xt">SSHDM</text>
<line x1="1639.2" y1="1122.4" x2="1639.2" y2="1126.4" class="tk"/>
<text transform="translate(1664.1,1140.5) rotate(-45) scale(0.978,1)" class="xt">LT-SSHDM</text>
<text transform="translate(964.4,895.2) rotate(-90) scale(0.963,1)" class="yl">Pearson Correlation</text>
</g>
<text y="31.8" class="ti"><tspan x="328.4" textLength="70.9" lengthAdjust="spacingAndGlyphs">Left</tspan><tspan> </tspan><tspan x="411.3">hemisphere</tspan></text>
<text y="31.8" class="ti"><tspan x="1156.7" textLength="98.6" lengthAdjust="spacingAndGlyphs">Right</tspan><tspan> </tspan><tspan x="1265.9">hemisphere</tspan></text>
<text transform="translate(33.6,375.8) rotate(-90)" class="tv"><tspan x="-1.4">90</tspan><tspan> </tspan><tspan x="55.8" textLength="85.1" lengthAdjust="spacingAndGlyphs">ROIs</tspan></text>
<text transform="translate(33.5,975.5) rotate(-90)" class="tv"><tspan x="-1.4">210</tspan><tspan> </tspan><tspan x="78.4" textLength="86.5" lengthAdjust="spacingAndGlyphs">ROIs</tspan></text>
</svg>
</body></html>
